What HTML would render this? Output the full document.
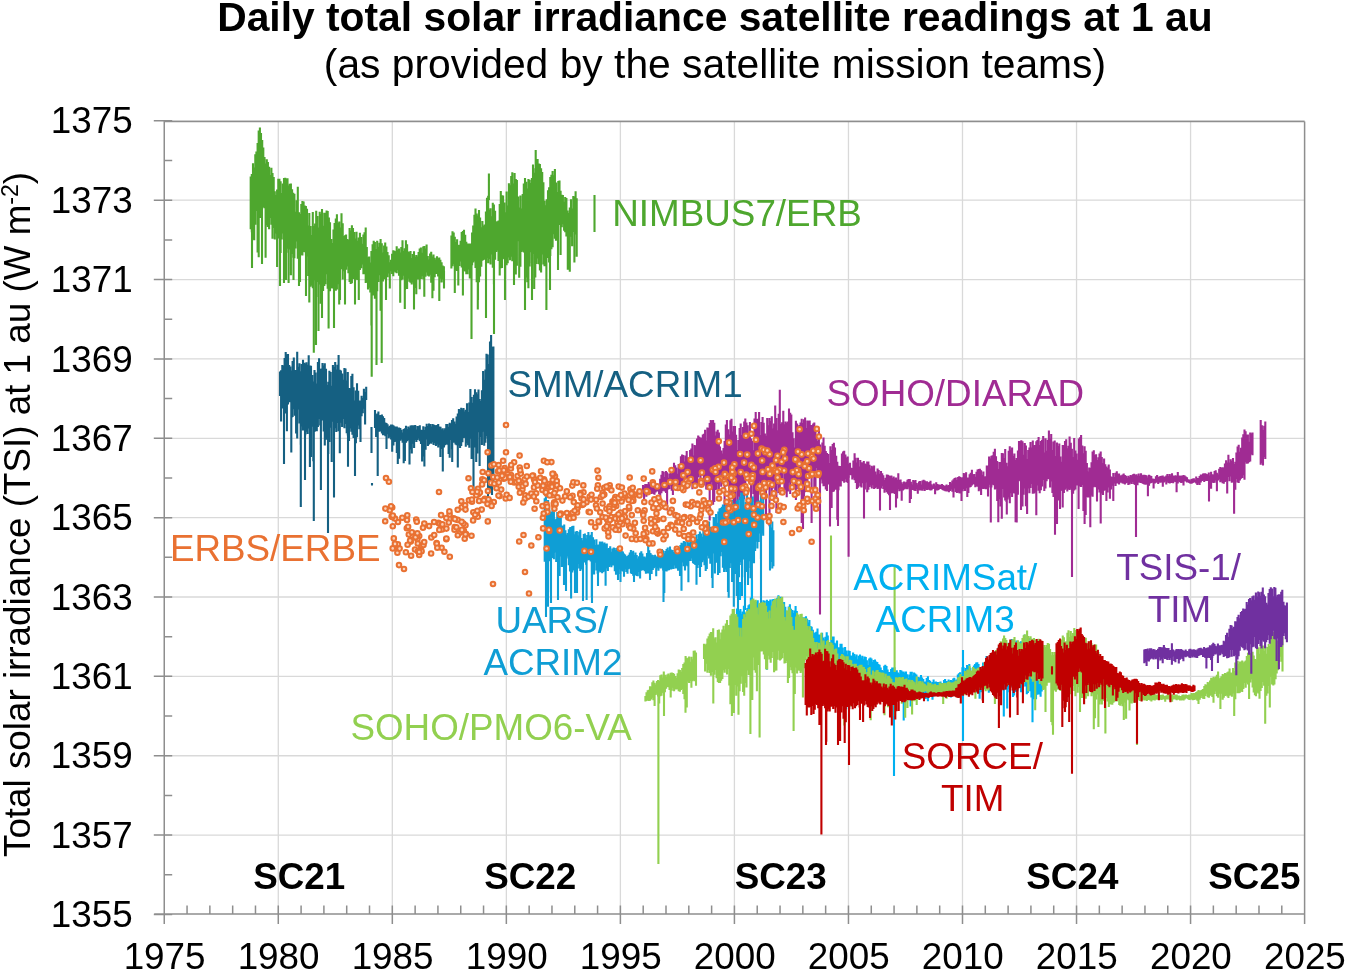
<!DOCTYPE html>
<html><head><meta charset="utf-8"><title>Daily total solar irradiance satellite readings at 1 au</title>
<style>html,body{margin:0;padding:0;background:#fff;overflow:hidden}svg{display:block}</style></head>
<body>
<svg width="1345" height="972" viewBox="0 0 1345 972">
<rect width="1345" height="972" fill="#fff"/>
<path d="M164.2 835.09H1304.6M164.2 755.73H1304.6M164.2 676.37H1304.6M164.2 597.01H1304.6M164.2 517.65H1304.6M164.2 438.29H1304.6M164.2 358.93H1304.6M164.2 279.57H1304.6M164.2 200.21H1304.6M164.2 120.85H1304.6M278.28 121.4V914.1M392.32 121.4V914.1M506.35 121.4V914.1M620.39 121.4V914.1M734.42 121.4V914.1M848.46 121.4V914.1M962.50 121.4V914.1M1076.53 121.4V914.1M1190.56 121.4V914.1" stroke="#D9D9D9" stroke-width="1.3" fill="none"/>
<path d="M250.7 176.6V229.2M251.8 173.9V232.2M253.0 163.2V239.4M254.2 167.6V240.3M255.3 154.2V224.7M256.4 151.4V211.1M257.6 143.1V252.5M258.7 130.4V257.2M259.9 127.6V217.9M261.0 133.0V204.9M262.2 140.1V208.3M263.3 147.6V206.9M264.5 156.9V208.2M265.6 163.5V257.7M266.8 159.3V225.3M267.9 162.1V227.1M269.1 166.7V229.3M270.2 175.0V218.0M271.4 167.7V224.8M272.5 172.9V238.7M273.7 177.1V228.0M274.8 191.2V239.5M276.0 195.1V233.6M277.1 189.4V267.1M278.3 178.7V238.1M279.4 178.8V238.8M280.6 181.3V252.9M281.7 193.1V239.5M282.9 183.4V233.5M284.0 177.9V248.3M285.2 177.8V244.1M286.3 178.6V252.8M287.5 178.3V248.7M288.6 185.5V283.1M289.8 183.8V249.4M290.9 183.5V275.2M292.1 189.3V254.0M293.2 192.8V257.7M294.4 193.8V258.2M295.5 211.8V248.6M296.7 200.2V241.4M297.8 186.8V258.8M299.0 212.2V286.1M300.1 214.0V256.4M301.3 203.9V255.1M302.4 200.9V255.6M303.6 201.5V251.9M304.7 205.6V252.2M305.9 206.1V255.6M307.0 208.7V256.4M308.2 225.6V276.1M309.3 212.9V302.4M310.5 226.1V286.8M311.6 234.9V285.6M312.8 211.9V288.3M313.9 225.9V280.6M315.1 223.4V277.8M316.2 210.8V297.0M317.4 216.1V282.1M318.5 227.4V307.2M319.7 211.7V284.5M320.8 213.8V303.8M322.0 209.0V280.5M323.1 225.8V291.0M324.3 212.8V286.1M325.4 212.8V284.3M326.6 210.5V274.3M327.7 211.1V288.7M328.9 217.5V283.1M330.0 222.3V291.3M331.2 239.0V288.0M332.3 243.1V288.4M333.5 229.4V278.6M334.6 223.1V279.9M335.8 218.5V290.8M336.9 214.2V289.4M338.1 223.0V284.2M339.2 221.4V304.4M340.4 227.4V263.3M341.5 213.3V269.3M342.7 223.3V279.4M343.8 235.9V271.3M345.0 235.2V284.3M346.1 234.4V269.7M347.3 239.0V266.5M348.4 240.0V273.2M349.6 228.0V282.0M350.7 230.6V283.9M351.9 225.2V283.2M353.0 228.1V279.1M354.2 231.9V275.9M355.3 238.4V280.3M356.5 231.8V279.2M357.6 240.8V279.9M358.8 237.5V300.0M359.9 232.7V270.1M361.1 237.0V268.3M362.2 243.7V264.4M363.4 234.5V274.2M364.5 232.2V274.3M365.7 227.6V282.9M366.8 247.0V282.5M368.0 257.2V289.6M369.1 256.6V287.8M370.3 262.6V292.5M371.4 251.1V325.6M372.6 244.3V292.5M373.7 240.7V295.6M374.9 241.9V298.8M376.0 248.9V298.4M377.2 240.8V291.2M378.3 246.8V282.1M379.5 242.8V275.3M380.6 238.9V310.8M381.8 243.3V277.6M382.9 252.4V281.6M384.1 245.4V279.3M385.2 242.5V278.7M386.4 246.4V274.8M387.5 251.9V277.2M388.7 255.3V273.4M389.8 262.2V275.6M391.0 259.8V271.3M392.1 253.8V273.9M393.3 250.2V276.3M394.4 250.7V271.6M395.6 251.2V272.6M396.7 246.3V273.2M397.9 249.8V270.3M399.0 248.4V275.8M400.2 252.5V302.8M401.3 246.9V280.2M402.5 240.3V279.5M403.6 251.1V275.8M404.8 248.2V309.0M405.9 240.2V273.7M407.1 244.2V288.9M408.2 251.5V278.7M409.4 252.2V281.7M410.5 251.1V282.8M411.7 258.0V284.4M412.8 254.0V282.6M414.0 251.3V309.5M415.1 256.8V276.5M416.3 254.9V294.2M417.4 256.6V279.5M418.6 252.0V279.6M419.7 248.6V289.3M420.9 247.4V279.1M422.0 252.8V276.2M423.2 246.6V279.3M424.3 245.9V296.8M425.5 248.4V276.8M426.6 244.6V272.4M427.8 256.1V275.7M428.9 259.5V276.6M430.1 253.5V274.7M431.2 251.8V282.7M432.4 256.5V298.2M433.5 254.4V290.7M434.7 257.8V277.3M435.8 259.5V274.0M437.0 256.3V274.0M438.1 258.3V276.4M439.3 257.6V300.9M440.4 259.8V278.7M441.6 262.2V282.4M442.7 265.5V279.5M443.9 266.2V282.0M451.4 235.5V268.6M452.5 231.3V266.3M453.7 232.4V264.2M454.8 236.8V293.0M456.0 242.0V270.5M457.1 239.2V270.9M458.3 245.1V285.4M459.4 244.8V265.9M460.6 240.8V261.6M461.7 232.0V267.6M462.9 230.9V295.4M464.0 229.7V271.1M465.2 234.7V271.4M466.3 241.7V274.2M467.5 243.6V274.3M468.6 243.5V269.5M469.8 243.5V278.5M470.9 243.4V273.2M472.1 232.6V265.3M473.2 225.5V262.4M474.4 214.8V261.2M475.5 208.5V267.9M476.7 213.5V282.2M477.8 215.6V309.5M479.0 209.9V282.3M480.1 217.5V276.4M481.3 227.3V266.8M482.4 221.1V260.7M483.6 225.7V260.0M484.7 224.6V259.2M485.9 211.4V258.5M487.0 197.7V257.7M488.2 195.7V263.3M489.3 209.8V259.0M490.5 208.2V264.4M491.6 216.3V254.6M492.8 202.7V267.8M493.9 204.4V284.3M495.1 210.8V259.7M496.2 221.5V251.9M497.4 221.2V250.5M498.5 220.4V260.9M499.7 203.9V275.6M500.8 190.9V268.2M502.0 195.2V268.0M503.1 195.4V258.7M504.3 202.6V259.2M505.4 212.2V257.5M506.6 191.4V265.3M507.7 205.5V263.2M508.9 183.3V257.4M510.0 185.3V260.3M511.2 176.0V256.7M512.3 172.3V261.2M513.5 183.4V248.4M514.6 173.1V255.6M515.8 179.0V274.4M516.9 179.9V265.8M518.1 196.6V241.3M519.2 207.5V277.8M520.4 195.6V266.8M521.5 208.5V252.1M522.7 193.9V250.7M523.8 183.6V252.6M525.0 178.1V259.1M526.1 181.8V277.5M527.3 188.5V282.2M528.4 178.9V288.3M529.6 179.7V266.4M530.7 182.9V252.3M531.9 178.1V263.2M533.0 164.5V253.8M534.2 172.8V289.1M535.3 168.3V277.5M536.5 160.4V263.9M537.6 158.9V258.4M538.8 163.6V264.3M539.9 163.9V270.6M541.1 168.2V272.6M542.2 171.9V254.4M543.4 182.3V264.4M544.5 200.7V266.2M545.7 205.2V260.8M546.8 199.3V256.4M548.0 190.3V258.0M549.1 187.2V262.6M550.3 177.0V256.1M551.4 174.7V249.2M552.6 170.9V247.3M553.7 175.2V234.2M554.9 169.1V238.7M556.0 182.5V240.7M557.2 191.9V229.7M558.3 181.0V223.1M559.5 180.4V225.0M560.6 190.7V254.9M561.8 194.7V227.2M562.9 195.1V224.3M564.1 201.7V230.8M565.2 197.1V232.3M566.4 198.1V236.4M567.5 210.4V234.4M568.7 213.1V242.4M569.8 207.4V271.8M571.0 199.3V236.8M572.1 208.6V246.3M573.3 196.1V232.0M574.4 196.8V262.4M575.6 191.3V234.5M576.7 198.3V256.8M252.0 205.1V268.0M262.0 185.6V264.0M280.0 211.8V286.0M284.0 214.5V283.0M286.0 215.8V280.0M293.5 223.0V280.0M300.0 230.0V282.0M306.0 239.9V296.0M313.8 252.5V352.7M316.0 253.0V345.0M318.5 254.2V331.0M322.0 254.6V318.0M328.6 254.6V328.6M334.0 255.1V328.0M340.0 248.3V300.0M345.0 248.4V304.5M355.0 256.0V304.5M371.7 271.8V376.7M376.5 266.7V365.0M381.7 258.5V363.0M386.0 262.7V300.0M389.8 266.5V288.5M405.0 259.6V290.0M415.0 266.0V288.0M444.0 271.0V288.5M471.5 253.0V339.0M478.0 244.1V300.0M486.0 240.7V318.0M494.0 235.3V334.0M505.0 226.1V300.0M514.0 218.0V285.0M525.0 226.5V310.0M532.0 214.9V300.0M546.4 221.5V310.0M550.0 216.4V290.0M558.0 207.2V270.0M567.8 224.0V269.7M488.9 200.0V173.5M535.7 170.0V150.0M594.5 195.0V232.0" stroke="#4EA72E" stroke-width="2.1" fill="none"/>
<path d="M280.0 371.6V395.9M281.1 370.3V421.4M282.3 365.0V408.5M283.4 365.7V399.6M284.6 358.0V411.8M285.7 352.1V413.5M286.9 354.3V431.3M288.0 353.9V404.5M289.2 365.1V402.3M290.3 366.4V401.7M291.5 370.5V418.0M292.6 360.9V416.9M293.8 357.6V409.3M294.9 370.1V415.8M296.1 370.0V433.4M297.2 351.7V438.4M298.4 366.7V409.5M299.5 363.2V423.4M300.7 371.3V444.7M301.8 363.9V426.6M303.0 359.7V430.4M304.1 362.7V429.2M305.3 363.6V435.3M306.4 362.3V431.8M307.6 364.7V434.0M308.7 355.3V428.5M309.9 365.5V466.9M311.0 365.8V457.1M312.2 375.1V426.8M313.3 381.6V461.2M314.5 370.0V431.9M315.6 372.4V431.1M316.8 383.4V431.2M317.9 362.0V427.1M319.1 358.3V419.1M320.2 369.1V425.5M321.4 368.5V410.6M322.5 362.9V420.4M323.7 365.6V431.6M324.8 363.3V445.6M326.0 368.8V439.8M327.1 384.9V430.1M328.3 381.8V454.1M329.4 370.7V442.1M330.6 372.1V427.7M331.7 385.8V462.1M332.9 365.0V421.8M334.0 366.9V454.7M335.2 361.9V428.2M336.3 369.5V432.1M337.5 364.8V423.1M338.6 355.1V431.3M339.8 369.8V453.3M340.9 370.5V422.8M342.1 373.4V427.0M343.2 379.8V419.0M344.4 367.9V428.3M345.5 368.4V424.1M346.7 380.6V433.2M347.8 372.1V435.6M349.0 388.1V441.1M350.1 388.2V428.4M351.3 376.0V431.7M352.4 373.7V434.7M353.6 387.2V438.1M354.7 400.5V433.8M355.9 390.5V443.2M357.0 383.3V437.3M358.2 390.7V425.6M359.3 400.6V429.2M360.5 400.4V442.0M361.6 395.7V416.2M362.8 398.1V413.2M363.9 388.8V408.8M365.1 391.9V424.6M366.2 386.7V400.0M371.5 427.1V453.1M375.0 409.9V427.9M376.1 414.2V437.0M377.3 413.6V427.6M378.4 411.5V429.8M379.6 415.2V431.7M380.7 415.0V430.9M381.9 414.6V433.4M383.0 416.2V435.2M384.2 418.1V435.1M385.3 422.6V436.3M386.5 423.1V449.0M387.6 424.3V434.3M388.8 426.7V438.3M389.9 425.8V436.7M391.1 424.5V439.5M392.2 424.5V451.7M393.4 425.2V445.4M394.5 426.2V441.9M395.7 427.1V441.4M396.8 426.6V453.1M398.0 427.4V456.1M399.1 427.6V458.8M400.3 428.1V440.8M401.4 429.8V439.6M402.6 432.6V442.7M403.7 429.0V463.2M404.9 428.2V460.9M406.0 425.7V442.7M407.2 428.9V441.2M408.3 426.5V439.9M409.5 427.7V464.4M410.6 425.4V449.5M411.8 425.3V453.6M412.9 425.3V443.7M414.1 425.5V447.9M415.2 425.1V439.9M416.4 429.4V442.1M417.5 426.1V440.1M418.7 426.2V438.6M419.8 425.3V441.2M421.0 429.8V443.9M422.1 430.1V461.4M423.3 426.3V456.5M424.4 430.0V466.4M425.6 426.8V449.7M426.7 423.8V439.5M427.9 426.0V446.1M429.0 423.5V444.6M430.2 424.0V443.2M431.3 426.6V443.7M432.5 424.0V441.9M433.6 424.5V445.0M434.8 425.0V443.0M435.9 425.8V445.9M437.1 424.9V444.5M438.2 424.0V447.6M439.4 426.4V445.1M440.5 426.8V448.6M441.7 429.3V448.9M442.8 428.2V471.5M444.0 430.2V447.4M445.1 428.3V445.2M446.3 424.0V444.2M447.4 424.1V444.8M448.6 426.7V453.9M449.7 422.8V457.8M450.9 423.7V439.9M452.0 420.1V449.2M453.2 418.3V442.7M454.3 421.6V442.7M455.5 423.8V444.4M456.6 416.4V445.3M457.8 413.5V467.4M458.9 409.0V445.6M460.1 409.8V447.9M461.2 407.8V446.0M462.4 409.2V442.3M463.5 408.0V438.1M464.7 411.4V437.8M465.8 409.8V446.8M467.0 403.3V443.3M468.1 412.0V445.3M469.3 402.4V447.7M470.4 389.1V438.7M471.6 397.1V459.0M472.7 402.7V440.3M473.9 394.8V447.6M475.0 389.3V447.5M476.2 392.2V462.1M477.3 394.2V453.6M478.5 389.4V432.3M479.6 398.9V466.0M480.8 401.0V436.9M481.9 390.2V444.9M483.1 371.0V431.7M484.2 379.8V445.8M485.4 369.5V442.7M486.5 353.8V435.9M487.7 354.5V438.5M488.8 364.0V422.1M490.0 341.5V434.8M491.1 335.1V440.2M492.3 346.7V464.5M493.4 346.4V484.7M284.0 382.5V464.0M291.3 383.2V452.5M300.8 385.6V507.0M305.0 394.3V480.0M313.8 405.0V521.0M320.9 389.8V490.0M328.0 408.5V533.0M334.0 398.0V497.5M348.0 402.5V466.7M355.0 412.2V476.0M377.7 419.3V476.0M397.8 435.9V464.0M440.4 437.0V457.0M452.2 428.9V462.0M473.5 420.5V495.0M490.0 388.5V490.0M372.0 483.0V485.6M488.0 394.9V500.0M492.0 399.6V495.0" stroke="#156082" stroke-width="2.1" fill="none"/>
<path d="M643.0 485.0V493.5M644.1 485.6V501.0M645.3 484.1V492.6M646.4 484.1V496.7M647.6 484.2V492.4M648.7 482.1V492.9M649.9 484.2V492.6M651.0 486.7V494.0M652.2 487.3V493.1M653.3 487.1V493.9M654.5 484.8V494.8M655.6 483.5V492.6M656.8 485.5V491.4M657.9 486.3V491.4M659.1 484.6V494.3M660.2 478.7V496.1M661.4 474.8V493.2M662.5 471.1V491.3M663.7 471.7V490.5M664.8 476.9V491.6M666.0 470.9V492.9M667.1 472.3V510.5M668.3 477.8V489.4M669.4 473.5V489.1M670.6 472.7V485.7M671.7 473.3V490.7M672.9 470.1V495.1M674.0 462.8V488.7M675.2 465.2V489.4M676.3 467.6V487.5M677.5 473.8V490.1M678.6 464.0V490.3M679.8 464.0V490.7M680.9 456.2V488.5M682.1 454.5V484.5M683.2 455.0V488.2M684.4 461.4V486.0M685.5 455.4V484.4M686.7 450.9V489.2M687.8 457.5V487.9M689.0 457.5V480.1M690.1 450.0V478.4M691.3 448.5V483.3M692.4 443.5V489.2M693.6 455.6V487.5M694.7 444.9V482.5M695.9 445.7V486.4M697.0 438.4V484.2M698.2 435.6V477.5M699.3 436.7V474.6M700.5 437.5V483.7M701.6 437.7V476.0M702.8 434.5V474.1M703.9 433.7V485.4M705.1 429.7V479.4M706.2 440.4V489.6M707.4 427.5V489.8M708.5 427.9V487.2M709.7 423.1V520.5M710.8 419.9V487.0M712.0 420.7V482.2M713.1 420.0V504.8M714.3 422.8V502.1M715.4 435.5V490.1M716.6 431.5V489.8M717.7 429.8V484.1M718.9 432.5V493.8M720.0 446.5V473.4M721.2 450.5V486.7M722.3 453.4V483.7M723.5 447.9V480.6M724.6 441.1V524.1M725.8 424.6V484.0M726.9 420.0V477.7M728.1 429.3V482.5M729.2 434.6V511.1M730.4 420.2V490.4M731.5 418.7V496.6M732.7 431.6V495.8M733.8 426.1V513.4M735.0 425.9V517.6M736.1 434.7V489.7M737.3 450.1V528.1M738.4 439.9V496.4M739.6 427.9V499.9M740.7 423.4V492.8M741.9 434.9V495.2M743.0 427.1V516.9M744.2 421.4V499.3M745.3 418.4V484.1M746.5 422.5V479.7M747.6 425.2V481.2M748.8 435.6V477.6M749.9 422.0V478.5M751.1 438.6V502.6M752.2 440.7V483.6M753.4 450.3V494.1M754.5 418.4V501.8M755.7 412.1V495.8M756.8 419.0V520.7M758.0 418.7V502.2M759.1 412.0V481.6M760.3 435.1V491.7M761.4 422.0V487.7M762.6 416.9V483.2M763.7 422.8V498.0M764.9 433.4V491.0M766.0 435.7V518.6M767.2 418.0V489.4M768.3 425.2V484.9M769.5 417.9V526.3M770.6 421.1V487.2M771.8 416.3V498.3M772.9 428.6V488.5M774.1 423.6V480.5M775.2 405.4V494.8M776.4 418.0V513.1M777.5 430.2V484.8M778.7 413.7V493.1M779.8 389.7V494.5M781.0 423.9V477.4M782.1 422.2V478.6M783.3 410.7V471.5M784.4 424.3V493.3M785.6 421.4V489.8M786.7 422.9V497.2M787.9 421.4V491.5M789.0 408.6V482.5M790.2 412.8V494.1M791.3 414.4V481.7M792.5 432.2V481.9M793.6 438.3V488.0M794.8 447.4V488.1M795.9 420.8V500.0M797.1 423.6V485.9M798.2 430.2V489.0M799.4 425.0V491.7M800.5 422.4V489.8M801.7 418.8V523.0M802.8 422.9V496.5M804.0 419.2V496.8M805.1 417.4V492.2M806.3 428.0V491.7M807.4 420.5V482.1M808.6 420.7V478.2M809.7 420.4V474.9M810.9 425.1V468.8M812.0 425.1V468.7M813.2 423.4V471.0M814.3 422.5V487.1M815.5 430.4V503.9M816.6 438.2V467.9M817.8 440.9V474.1M818.9 430.2V474.4M820.1 444.4V480.7M821.2 451.4V479.4M822.4 442.6V483.6M823.5 437.6V486.3M824.7 445.7V486.1M825.8 450.9V489.6M827.0 453.1V491.1M828.1 454.0V484.6M829.3 462.9V482.7M830.4 446.2V487.1M831.6 449.9V507.9M832.7 443.9V491.9M833.9 442.8V491.4M835.0 447.6V489.4M836.2 455.8V489.8M837.3 461.7V519.7M838.5 465.8V490.3M839.6 466.0V486.6M840.8 466.1V486.5M841.9 453.4V480.8M843.1 451.4V481.2M844.2 450.7V482.8M845.4 454.5V479.3M846.5 457.8V482.0M847.7 456.5V483.1M848.8 463.7V477.7M850.0 462.8V475.0M851.1 467.7V475.2M852.3 468.0V479.4M853.4 460.6V477.7M854.6 453.3V480.3M855.7 457.7V482.9M856.9 462.6V489.0M858.0 457.7V487.7M859.2 466.6V482.8M860.3 459.9V486.6M861.5 462.2V487.4M862.6 462.6V483.2M863.8 460.9V483.2M864.9 463.4V489.4M866.1 464.2V482.4M867.2 461.4V492.3M868.4 461.4V489.7M869.5 464.8V487.0M870.7 468.6V485.4M871.8 465.8V488.4M873.0 467.3V485.3M874.1 465.5V489.0M875.3 471.6V488.2M876.4 474.4V487.0M877.6 468.5V488.9M878.7 470.0V488.6M879.9 473.8V488.3M881.0 471.0V488.5M882.2 473.2V486.2M883.3 475.2V488.9M884.5 480.1V492.7M885.6 477.7V490.2M886.8 474.4V492.3M887.9 474.8V493.7M889.1 475.5V495.3M890.2 475.9V494.0M891.4 475.4V493.1M892.5 478.1V493.2M893.7 476.6V493.2M894.8 478.4V494.0M896.0 477.6V507.5M897.1 479.7V498.4M898.3 473.2V489.3M899.4 479.9V491.3M900.6 479.5V490.5M901.7 482.2V500.8M902.9 484.0V490.4M904.0 481.4V489.4M905.2 482.8V488.4M906.3 481.7V489.3M907.5 479.7V489.2M908.6 479.1V487.6M909.8 479.1V503.0M910.9 481.7V499.1M912.1 484.4V490.0M913.2 480.0V489.9M914.4 481.0V490.7M915.5 480.0V490.9M916.7 483.1V489.3M917.8 484.6V493.7M919.0 481.6V490.2M920.1 480.9V490.6M921.3 484.4V490.5M922.4 480.4V490.8M923.6 479.7V489.3M924.7 480.4V490.9M925.9 481.2V489.4M927.0 481.3V489.9M928.2 482.7V488.9M929.3 482.0V490.1M930.5 480.8V490.6M931.6 484.2V490.2M932.8 485.6V489.0M933.9 483.5V488.6M935.1 485.4V494.2M936.2 482.2V490.6M937.4 483.9V490.5M938.5 484.5V489.9M939.7 484.5V488.9M940.8 484.9V488.9M942.0 484.0V489.6M943.1 484.9V490.2M944.3 486.0V490.8M945.4 485.4V491.3M946.6 484.6V491.6M947.7 485.7V491.2M948.9 484.9V492.2M950.0 481.9V490.9M951.2 483.2V489.5M952.3 480.6V491.8M953.5 479.3V497.6M954.6 478.1V488.6M955.8 477.4V492.1M956.9 479.9V492.9M958.1 477.0V492.0M959.2 476.3V493.2M960.4 477.0V493.4M961.5 478.1V500.9M962.7 477.2V491.3M963.8 473.1V489.1M965.0 474.3V491.0M966.1 472.3V488.2M967.3 477.6V497.1M968.4 477.5V493.0M969.6 474.3V487.6M970.7 472.8V486.9M971.9 469.7V485.6M973.0 474.4V484.0M974.2 473.9V484.4M975.3 476.8V487.3M976.5 471.8V486.2M977.6 469.5V486.7M978.8 469.1V491.3M979.9 468.8V489.7M981.1 470.3V495.1M982.2 474.7V488.8M983.4 471.4V489.1M984.5 476.4V488.5M985.7 476.3V489.2M986.8 465.6V489.2M988.0 465.6V496.4M989.1 456.5V484.8M990.3 458.6V487.5M991.4 455.7V487.4M992.6 455.3V484.6M993.7 451.7V485.2M994.9 448.8V489.6M996.0 456.2V488.7M997.2 461.1V501.0M998.3 468.9V522.3M999.5 461.9V499.3M1000.6 462.0V506.6M1001.8 452.9V518.8M1002.9 453.2V488.9M1004.1 458.0V497.4M1005.2 449.0V500.4M1006.4 462.7V501.9M1007.5 466.2V499.6M1008.7 450.8V497.4M1009.8 446.3V503.3M1011.0 449.8V493.3M1012.1 447.6V497.0M1013.3 455.8V493.1M1014.4 453.6V493.5M1015.6 460.1V522.3M1016.7 458.0V522.4M1017.9 450.4V494.7M1019.0 441.1V480.6M1020.2 441.2V481.3M1021.3 440.3V482.8M1022.5 441.2V506.6M1023.6 454.8V494.7M1024.8 442.9V488.6M1025.9 445.5V506.3M1027.1 459.1V513.9M1028.2 450.0V488.4M1029.4 447.4V493.3M1030.5 441.9V488.0M1031.7 447.4V483.9M1032.8 440.4V493.7M1034.0 445.2V493.5M1035.1 445.0V492.5M1036.3 441.2V515.2M1037.4 439.9V485.4M1038.6 436.9V490.7M1039.7 445.1V493.3M1040.9 441.0V490.2M1042.0 439.8V486.6M1043.2 435.9V480.0M1044.3 452.5V491.0M1045.5 438.3V488.6M1046.6 450.8V481.2M1047.8 439.7V479.2M1048.9 430.5V478.9M1050.1 438.4V487.5M1051.2 434.1V481.6M1052.4 450.0V492.9M1053.5 441.5V497.1M1054.7 440.6V495.1M1055.8 456.1V488.4M1057.0 442.6V523.9M1058.1 446.1V500.6M1059.3 443.6V491.3M1060.4 456.4V491.1M1061.6 461.7V490.4M1062.7 444.9V507.4M1063.9 445.1V493.1M1065.0 441.1V489.7M1066.2 439.2V488.6M1067.3 448.3V491.5M1068.5 445.8V489.3M1069.6 436.6V490.0M1070.8 442.8V488.7M1071.9 448.8V492.2M1073.1 457.1V493.7M1074.2 438.0V490.4M1075.4 450.5V489.4M1076.5 453.6V485.6M1077.7 459.8V483.7M1078.8 438.5V479.9M1080.0 437.2V486.4M1081.1 435.0V486.9M1082.3 445.4V485.1M1083.4 453.2V511.0M1084.6 446.2V524.0M1085.7 450.7V515.0M1086.9 462.9V496.9M1088.0 471.5V497.4M1089.2 467.5V497.6M1090.3 467.9V527.3M1091.5 462.3V495.4M1092.6 451.5V496.8M1093.8 450.3V487.2M1094.9 454.9V486.5M1096.1 454.2V487.3M1097.2 460.1V489.6M1098.4 457.3V489.6M1099.5 453.6V492.6M1100.7 451.5V523.5M1101.8 457.1V493.4M1103.0 463.0V494.9M1104.1 458.5V490.7M1105.3 464.2V490.2M1106.4 466.6V501.0M1107.6 468.0V492.6M1108.7 464.6V487.5M1109.9 469.4V498.8M1111.0 476.5V489.5M1112.2 477.1V485.8M1113.3 473.1V501.0M1114.5 477.1V483.6M1115.6 472.8V485.9M1116.8 471.3V483.6M1117.9 473.5V483.4M1119.1 473.5V484.5M1120.2 475.6V482.7M1121.4 475.3V482.8M1122.6 474.6V483.6M1123.7 473.5V483.8M1124.9 475.0V484.6M1126.0 475.8V483.3M1127.2 477.7V482.7M1128.3 475.8V484.9M1129.5 477.1V484.4M1130.6 475.0V482.8M1131.8 475.4V483.9M1132.9 474.2V482.0M1134.1 473.7V484.3M1135.2 475.0V484.9M1136.4 474.2V484.0M1137.5 475.8V485.2M1138.7 473.5V482.6M1139.8 475.8V482.7M1141.0 473.2V483.0M1142.1 475.2V483.2M1143.3 474.7V484.1M1144.4 474.7V484.5M1145.6 475.1V484.7M1146.7 475.6V484.4M1147.9 477.6V496.2M1149.0 474.8V485.7M1150.2 475.5V483.6M1151.3 475.9V483.1M1152.5 478.6V482.3M1153.6 478.7V488.4M1154.8 478.9V483.6M1155.9 476.3V482.7M1157.1 475.0V482.5M1158.2 477.1V483.9M1159.4 476.4V482.6M1160.5 475.9V482.8M1161.7 475.7V482.2M1162.8 475.6V486.7M1164.0 476.9V482.5M1165.1 476.5V481.6M1166.3 475.6V484.4M1167.4 474.1V481.7M1168.6 476.0V482.9M1169.7 474.1V483.4M1170.9 475.5V483.0M1172.0 473.2V482.7M1173.2 475.5V483.2M1174.3 476.0V481.5M1175.5 475.3V482.1M1176.6 476.0V492.3M1177.8 471.9V483.4M1178.9 475.6V481.6M1180.1 476.0V482.2M1181.2 475.5V483.0M1182.4 475.7V482.6M1183.5 474.9V485.6M1184.7 475.4V481.2M1185.8 476.4V481.6M1187.0 477.2V482.5M1188.1 479.3V482.4M1189.3 479.6V483.0M1190.4 480.6V483.8M1191.6 478.9V483.8M1192.7 478.4V482.9M1193.9 478.2V482.5M1195.0 479.7V482.6M1196.2 476.6V483.4M1197.3 477.9V485.0M1198.5 477.9V483.5M1199.6 476.0V484.9M1200.8 474.6V482.5M1201.9 474.5V481.1M1203.1 473.6V480.5M1204.2 473.3V482.0M1205.4 473.3V480.8M1206.5 474.1V480.9M1207.7 474.6V481.0M1208.8 472.4V480.5M1210.0 475.4V482.3M1211.1 471.7V488.8M1212.3 474.2V482.2M1213.4 474.6V483.0M1214.6 471.1V482.7M1215.7 470.3V480.4M1216.9 472.8V491.2M1218.0 474.6V480.6M1219.2 468.7V479.3M1220.3 467.0V482.3M1221.5 467.9V481.6M1222.6 467.2V483.3M1223.8 467.6V483.8M1224.9 463.4V482.1M1226.1 460.2V481.3M1227.2 462.6V493.4M1228.4 454.8V477.0M1229.5 462.5V481.3M1230.7 459.2V476.5M1231.8 461.1V482.8M1233.0 457.9V482.0M1234.1 464.0V513.7M1235.3 461.7V489.7M1236.4 452.6V479.1M1237.6 446.6V482.4M1238.7 444.8V483.1M1239.9 451.7V480.6M1241.0 447.7V478.8M1242.2 437.5V478.1M1243.3 434.3V475.3M1244.5 429.4V479.7M1245.6 431.3V462.2M1246.8 434.4V463.7M1247.9 434.4V463.4M1249.1 441.8V462.3M1250.2 432.4V461.5M1251.4 433.4V454.2M1252.5 432.4V455.3M1260.7 420.1V464.8M1261.9 425.2V463.0M1263.0 430.0V465.4M1264.2 425.8V457.1M1265.3 421.4V458.9M755.0 456.5V540.0M803.0 453.9V529.0M811.6 455.1V523.0M820.0 455.5V614.6M830.0 467.2V526.6M838.0 468.1V526.0M848.6 468.2V556.7M864.0 474.4V518.6M880.0 478.4V510.6M890.0 486.4V510.0M990.8 468.0V522.6M1006.8 472.5V514.6M1021.0 468.5V510.0M1055.0 467.0V534.7M1060.0 464.8V509.0M1072.0 464.2V577.0M1078.6 463.0V509.0M1097.0 469.0V501.5M1136.0 479.1V537.0M1209.0 477.3V501.5" stroke="#A02B93" stroke-width="2.1" fill="none"/>
<path d="M544.7 498.2V561.7M545.9 496.2V559.9M547.0 504.2V561.0M548.1 500.1V592.2M549.3 508.4V561.3M550.4 512.1V547.4M551.6 511.4V547.9M552.7 509.8V558.0M553.9 511.6V559.2M555.0 519.8V552.4M556.2 518.8V562.1M557.3 512.0V561.9M558.5 516.1V560.4M559.6 515.6V576.0M560.8 517.4V556.6M561.9 525.6V567.0M563.1 526.0V564.4M564.2 524.5V566.4M565.4 530.3V562.1M566.5 534.4V558.6M567.7 533.1V556.4M568.8 529.3V565.2M570.0 527.3V571.6M571.1 527.0V598.6M572.3 526.0V572.4M573.4 525.7V570.4M574.6 534.2V570.6M575.7 531.5V563.3M576.9 530.9V569.3M578.0 535.6V564.0M579.2 531.7V568.4M580.3 529.8V570.9M581.5 537.9V569.6M582.6 540.2V565.5M583.8 533.9V561.3M584.9 533.4V562.5M586.1 538.5V564.7M587.2 535.1V560.5M588.4 532.0V560.1M589.5 535.7V560.2M590.7 534.8V561.4M591.8 531.9V597.3M593.0 537.2V564.8M594.1 539.6V574.6M595.3 545.0V562.7M596.4 539.3V570.6M597.6 544.7V573.7M598.7 544.4V572.6M599.9 541.4V571.0M601.0 541.9V572.2M602.2 541.5V573.2M603.3 543.5V572.0M604.5 542.5V571.1M605.6 543.9V585.8M606.8 543.6V568.5M607.9 548.5V570.9M609.1 547.9V567.0M610.2 546.2V565.5M611.4 551.7V567.2M612.5 548.4V565.4M613.7 547.4V565.6M614.8 548.0V571.3M616.0 550.0V574.7M617.1 547.8V569.3M618.3 548.1V574.0M619.4 547.6V569.4M620.6 547.2V573.9M621.7 550.5V570.8M622.9 551.4V571.6M624.0 553.6V576.8M625.2 554.6V569.6M626.3 556.6V572.1M627.5 556.0V573.7M628.6 554.8V569.2M629.8 552.6V568.5M630.9 550.0V573.5M632.1 552.0V574.1M633.2 550.7V575.8M634.4 554.9V574.0M635.5 552.4V575.2M636.7 555.1V576.0M637.8 558.5V576.3M639.0 556.2V572.1M640.1 552.8V578.4M641.3 551.3V570.8M642.4 553.5V570.3M643.6 556.5V570.1M644.7 556.6V571.3M645.9 557.7V573.7M647.0 553.0V573.2M648.2 545.4V573.5M649.3 550.2V570.7M650.5 553.1V572.8M651.6 554.4V574.1M652.8 554.9V570.0M653.9 556.4V568.2M655.1 554.7V567.2M656.2 556.5V576.2M657.4 556.2V568.5M658.5 554.5V570.7M659.7 555.7V567.4M660.8 553.7V568.6M662.0 549.1V567.4M663.1 550.2V570.6M664.3 553.2V593.1M665.4 551.1V570.9M666.6 549.0V571.5M667.7 547.6V570.6M668.9 550.2V570.2M670.0 546.4V569.4M671.2 549.4V569.4M672.3 549.9V568.8M673.5 552.1V569.0M674.6 550.1V565.5M675.8 546.1V568.5M676.9 549.4V568.4M678.1 550.7V570.8M679.2 549.4V564.7M680.4 545.1V565.5M681.5 542.8V590.8M682.7 543.5V562.6M683.8 541.1V566.2M685.0 541.6V570.5M686.1 546.1V565.0M687.3 540.8V566.3M688.4 542.2V582.3M689.6 542.3V561.1M690.7 540.1V561.0M691.9 540.6V558.6M693.0 536.5V563.3M694.2 537.3V564.0M695.3 541.3V565.1M696.5 534.4V584.8M697.6 538.9V568.1M698.8 534.1V565.0M699.9 531.5V563.8M701.1 533.5V567.1M702.2 536.7V562.2M703.4 528.2V560.4M704.5 530.4V565.2M705.7 524.3V571.0M706.8 522.9V569.0M708.0 523.8V555.7M709.1 521.5V558.4M710.3 526.8V563.8M711.4 530.4V561.4M712.6 528.3V588.1M713.7 517.0V553.5M714.9 518.0V573.4M716.0 513.9V562.8M717.2 522.7V555.8M718.3 511.4V559.3M719.5 508.4V573.1M720.6 508.0V556.3M721.8 506.7V551.9M722.9 504.5V567.8M724.1 505.7V572.1M725.2 509.7V569.5M726.4 503.1V572.1M727.5 503.0V571.7M728.7 500.3V597.7M729.8 507.8V568.0M731.0 504.0V563.2M732.1 500.1V581.9M733.3 502.9V567.1M734.4 516.3V565.6M735.6 507.7V574.0M736.7 500.9V596.0M737.9 499.5V572.0M739.0 509.0V577.3M740.2 496.8V562.3M741.3 492.6V565.1M742.5 493.0V558.8M743.6 496.0V559.4M744.8 506.2V577.2M745.9 502.0V567.8M747.1 493.4V572.1M748.2 506.3V568.0M749.4 501.7V561.3M750.5 498.9V578.3M751.7 499.0V560.9M752.8 496.4V556.2M754.0 507.4V563.3M755.1 513.1V550.9M756.3 510.5V541.7M757.4 500.8V548.4M758.6 506.6V542.1M759.7 500.6V533.6M760.9 489.4V559.0M762.0 502.3V533.6M763.2 496.9V535.7M770.0 521.2V570.6M771.1 527.4V561.9M772.3 521.5V568.5M773.4 530.2V566.2M546.0 529.8V617.0M548.0 530.2V606.8M551.0 530.8V603.0M558.0 537.4V600.0M564.0 542.3V585.0M566.0 543.7V591.0M571.0 546.9V583.0M575.0 548.2V593.0M577.0 549.0V593.0M583.0 550.8V601.0M586.6 551.6V600.0M592.0 553.4V603.0M598.0 556.1V586.0M618.0 560.7V580.0M620.5 561.1V582.0M634.0 563.2V582.0M650.0 562.7V580.0M663.5 559.9V602.0M680.0 555.5V576.0M700.0 547.0V577.0M712.0 541.7V578.0M718.0 539.8V575.0M728.0 538.8V592.0M733.8 539.0V606.8M738.0 539.2V612.0M742.0 539.4V596.0M745.0 538.1V610.0M748.0 535.9V585.0M751.9 533.1V616.0M761.0 518.0V620.0M769.0 585.0V585.0" stroke="#0F9ED5" stroke-width="2.1" fill="none"/>
<g fill="#F9D3BC" stroke="#E97132" stroke-width="2"><circle cx="582.2" cy="505.0" r="2.3"/><circle cx="606.4" cy="508.7" r="2.3"/><circle cx="659.6" cy="501.1" r="2.3"/><circle cx="687.3" cy="549.0" r="2.3"/><circle cx="670.1" cy="482.1" r="2.3"/><circle cx="615.4" cy="497.1" r="2.3"/><circle cx="398.1" cy="547.8" r="2.3"/><circle cx="611.3" cy="517.1" r="2.3"/><circle cx="584.4" cy="550.9" r="2.3"/><circle cx="751.3" cy="464.9" r="2.3"/><circle cx="511.0" cy="475.0" r="2.3"/><circle cx="754.1" cy="524.9" r="2.3"/><circle cx="385.2" cy="521.3" r="2.3"/><circle cx="812.4" cy="490.4" r="2.3"/><circle cx="724.4" cy="481.2" r="2.3"/><circle cx="805.3" cy="464.1" r="2.3"/><circle cx="429.1" cy="526.1" r="2.3"/><circle cx="628.9" cy="525.8" r="2.3"/><circle cx="442.1" cy="529.5" r="2.3"/><circle cx="477.8" cy="516.8" r="2.3"/><circle cx="517.6" cy="476.0" r="2.3"/><circle cx="757.5" cy="517.5" r="2.3"/><circle cx="478.0" cy="490.0" r="2.3"/><circle cx="514.2" cy="482.4" r="2.3"/><circle cx="491.0" cy="482.9" r="2.3"/><circle cx="803.2" cy="505.9" r="2.3"/><circle cx="464.7" cy="538.8" r="2.3"/><circle cx="493.8" cy="502.0" r="2.3"/><circle cx="769.6" cy="454.3" r="2.3"/><circle cx="488.9" cy="500.7" r="2.3"/><circle cx="645.1" cy="527.9" r="2.3"/><circle cx="415.0" cy="549.5" r="2.3"/><circle cx="652.8" cy="482.2" r="2.3"/><circle cx="392.2" cy="507.5" r="2.3"/><circle cx="461.8" cy="507.3" r="2.3"/><circle cx="542.9" cy="517.7" r="2.3"/><circle cx="686.4" cy="480.7" r="2.3"/><circle cx="690.6" cy="517.2" r="2.3"/><circle cx="595.3" cy="527.1" r="2.3"/><circle cx="417.8" cy="551.3" r="2.3"/><circle cx="706.4" cy="528.0" r="2.3"/><circle cx="538.4" cy="537.3" r="2.3"/><circle cx="566.9" cy="513.1" r="2.3"/><circle cx="657.5" cy="519.8" r="2.3"/><circle cx="818.1" cy="475.0" r="2.3"/><circle cx="705.5" cy="523.4" r="2.3"/><circle cx="398.0" cy="522.0" r="2.3"/><circle cx="689.5" cy="535.1" r="2.3"/><circle cx="496.5" cy="488.3" r="2.3"/><circle cx="473.3" cy="512.3" r="2.3"/><circle cx="577.7" cy="507.6" r="2.3"/><circle cx="471.5" cy="535.7" r="2.3"/><circle cx="768.8" cy="469.3" r="2.3"/><circle cx="444.4" cy="551.7" r="2.3"/><circle cx="695.1" cy="485.8" r="2.3"/><circle cx="581.5" cy="498.6" r="2.3"/><circle cx="657.8" cy="533.6" r="2.3"/><circle cx="813.2" cy="450.8" r="2.3"/><circle cx="765.6" cy="487.4" r="2.3"/><circle cx="519.7" cy="467.5" r="2.3"/><circle cx="583.3" cy="485.4" r="2.3"/><circle cx="446.4" cy="528.6" r="2.3"/><circle cx="659.7" cy="551.8" r="2.3"/><circle cx="683.4" cy="490.1" r="2.3"/><circle cx="389.7" cy="510.3" r="2.3"/><circle cx="503.7" cy="478.8" r="2.3"/><circle cx="652.9" cy="531.3" r="2.3"/><circle cx="780.1" cy="505.9" r="2.3"/><circle cx="441.6" cy="547.8" r="2.3"/><circle cx="549.3" cy="530.9" r="2.3"/><circle cx="796.7" cy="460.2" r="2.3"/><circle cx="699.8" cy="518.1" r="2.3"/><circle cx="812.5" cy="501.1" r="2.3"/><circle cx="524.7" cy="479.3" r="2.3"/><circle cx="421.1" cy="546.5" r="2.3"/><circle cx="597.5" cy="470.6" r="2.3"/><circle cx="733.7" cy="507.9" r="2.3"/><circle cx="446.3" cy="539.2" r="2.3"/><circle cx="751.2" cy="482.1" r="2.3"/><circle cx="798.8" cy="482.5" r="2.3"/><circle cx="511.5" cy="479.8" r="2.3"/><circle cx="752.8" cy="475.4" r="2.3"/><circle cx="753.5" cy="508.2" r="2.3"/><circle cx="807.2" cy="461.3" r="2.3"/><circle cx="618.7" cy="486.6" r="2.3"/><circle cx="807.7" cy="501.6" r="2.3"/><circle cx="630.4" cy="489.3" r="2.3"/><circle cx="619.9" cy="548.6" r="2.3"/><circle cx="502.4" cy="474.9" r="2.3"/><circle cx="740.7" cy="472.1" r="2.3"/><circle cx="468.5" cy="478.3" r="2.3"/><circle cx="724.8" cy="473.9" r="2.3"/><circle cx="684.5" cy="517.1" r="2.3"/><circle cx="438.5" cy="522.9" r="2.3"/><circle cx="616.2" cy="505.9" r="2.3"/><circle cx="615.8" cy="516.8" r="2.3"/><circle cx="663.4" cy="518.9" r="2.3"/><circle cx="758.5" cy="504.9" r="2.3"/><circle cx="778.6" cy="510.7" r="2.3"/><circle cx="772.0" cy="497.7" r="2.3"/><circle cx="498.1" cy="471.4" r="2.3"/><circle cx="729.4" cy="502.7" r="2.3"/><circle cx="392.7" cy="548.4" r="2.3"/><circle cx="807.2" cy="498.7" r="2.3"/><circle cx="604.2" cy="487.8" r="2.3"/><circle cx="431.3" cy="537.5" r="2.3"/><circle cx="633.0" cy="497.2" r="2.3"/><circle cx="751.3" cy="433.7" r="2.3"/><circle cx="586.5" cy="502.2" r="2.3"/><circle cx="609.7" cy="485.4" r="2.3"/><circle cx="690.6" cy="505.8" r="2.3"/><circle cx="707.3" cy="479.0" r="2.3"/><circle cx="608.5" cy="536.5" r="2.3"/><circle cx="692.2" cy="502.0" r="2.3"/><circle cx="646.4" cy="539.1" r="2.3"/><circle cx="709.6" cy="487.3" r="2.3"/><circle cx="775.9" cy="500.1" r="2.3"/><circle cx="718.6" cy="466.7" r="2.3"/><circle cx="534.0" cy="478.7" r="2.3"/><circle cx="663.5" cy="539.3" r="2.3"/><circle cx="675.4" cy="515.1" r="2.3"/><circle cx="617.4" cy="523.0" r="2.3"/><circle cx="690.7" cy="459.7" r="2.3"/><circle cx="653.3" cy="507.9" r="2.3"/><circle cx="407.0" cy="520.0" r="2.3"/><circle cx="624.8" cy="516.8" r="2.3"/><circle cx="818.9" cy="436.5" r="2.3"/><circle cx="645.5" cy="540.3" r="2.3"/><circle cx="454.7" cy="527.0" r="2.3"/><circle cx="651.5" cy="502.6" r="2.3"/><circle cx="614.7" cy="499.2" r="2.3"/><circle cx="670.6" cy="524.7" r="2.3"/><circle cx="514.1" cy="462.2" r="2.3"/><circle cx="555.0" cy="476.2" r="2.3"/><circle cx="816.1" cy="508.8" r="2.3"/><circle cx="572.3" cy="485.6" r="2.3"/><circle cx="613.2" cy="508.0" r="2.3"/><circle cx="811.8" cy="456.2" r="2.3"/><circle cx="657.2" cy="486.4" r="2.3"/><circle cx="615.3" cy="518.5" r="2.3"/><circle cx="583.6" cy="499.4" r="2.3"/><circle cx="724.2" cy="541.9" r="2.3"/><circle cx="705.1" cy="527.0" r="2.3"/><circle cx="727.0" cy="475.7" r="2.3"/><circle cx="683.7" cy="518.0" r="2.3"/><circle cx="713.5" cy="529.3" r="2.3"/><circle cx="784.3" cy="449.8" r="2.3"/><circle cx="503.1" cy="460.7" r="2.3"/><circle cx="621.2" cy="520.6" r="2.3"/><circle cx="625.1" cy="511.1" r="2.3"/><circle cx="476.8" cy="513.0" r="2.3"/><circle cx="417.4" cy="539.2" r="2.3"/><circle cx="720.2" cy="478.3" r="2.3"/><circle cx="738.1" cy="520.0" r="2.3"/><circle cx="526.9" cy="497.2" r="2.3"/><circle cx="571.5" cy="513.9" r="2.3"/><circle cx="419.2" cy="536.0" r="2.3"/><circle cx="683.8" cy="483.7" r="2.3"/><circle cx="478.0" cy="488.9" r="2.3"/><circle cx="701.1" cy="480.9" r="2.3"/><circle cx="541.0" cy="471.2" r="2.3"/><circle cx="694.2" cy="545.6" r="2.3"/><circle cx="783.2" cy="452.4" r="2.3"/><circle cx="523.5" cy="535.0" r="2.3"/><circle cx="493.3" cy="477.0" r="2.3"/><circle cx="557.5" cy="497.2" r="2.3"/><circle cx="732.5" cy="495.3" r="2.3"/><circle cx="769.1" cy="483.2" r="2.3"/><circle cx="622.3" cy="524.2" r="2.3"/><circle cx="735.7" cy="507.0" r="2.3"/><circle cx="421.6" cy="551.3" r="2.3"/><circle cx="421.9" cy="545.8" r="2.3"/><circle cx="668.0" cy="528.0" r="2.3"/><circle cx="612.4" cy="501.5" r="2.3"/><circle cx="807.2" cy="483.9" r="2.3"/><circle cx="699.3" cy="492.4" r="2.3"/><circle cx="745.2" cy="521.0" r="2.3"/><circle cx="748.5" cy="500.5" r="2.3"/><circle cx="613.4" cy="502.9" r="2.3"/><circle cx="568.3" cy="517.4" r="2.3"/><circle cx="548.7" cy="487.4" r="2.3"/><circle cx="410.8" cy="541.6" r="2.3"/><circle cx="723.3" cy="490.2" r="2.3"/><circle cx="639.7" cy="492.4" r="2.3"/><circle cx="465.5" cy="525.3" r="2.3"/><circle cx="644.3" cy="502.0" r="2.3"/><circle cx="520.9" cy="490.8" r="2.3"/><circle cx="498.6" cy="465.0" r="2.3"/><circle cx="623.6" cy="497.1" r="2.3"/><circle cx="734.4" cy="488.8" r="2.3"/><circle cx="671.7" cy="509.7" r="2.3"/><circle cx="547.0" cy="493.7" r="2.3"/><circle cx="453.6" cy="518.3" r="2.3"/><circle cx="764.0" cy="517.1" r="2.3"/><circle cx="501.2" cy="489.6" r="2.3"/><circle cx="753.9" cy="467.5" r="2.3"/><circle cx="697.4" cy="503.5" r="2.3"/><circle cx="801.6" cy="454.4" r="2.3"/><circle cx="729.1" cy="442.6" r="2.3"/><circle cx="745.3" cy="486.3" r="2.3"/><circle cx="520.8" cy="473.6" r="2.3"/><circle cx="588.7" cy="511.8" r="2.3"/><circle cx="431.1" cy="553.5" r="2.3"/><circle cx="746.8" cy="475.7" r="2.3"/><circle cx="694.6" cy="504.2" r="2.3"/><circle cx="733.6" cy="473.6" r="2.3"/><circle cx="548.9" cy="484.1" r="2.3"/><circle cx="556.0" cy="482.5" r="2.3"/><circle cx="703.9" cy="505.8" r="2.3"/><circle cx="700.6" cy="460.2" r="2.3"/><circle cx="446.4" cy="538.5" r="2.3"/><circle cx="463.4" cy="523.6" r="2.3"/><circle cx="424.3" cy="523.5" r="2.3"/><circle cx="562.4" cy="500.6" r="2.3"/><circle cx="608.0" cy="523.7" r="2.3"/><circle cx="553.3" cy="473.9" r="2.3"/><circle cx="559.7" cy="530.5" r="2.3"/><circle cx="672.9" cy="500.9" r="2.3"/><circle cx="534.2" cy="479.6" r="2.3"/><circle cx="607.1" cy="519.4" r="2.3"/><circle cx="778.7" cy="481.2" r="2.3"/><circle cx="815.2" cy="504.2" r="2.3"/><circle cx="658.4" cy="497.8" r="2.3"/><circle cx="636.3" cy="539.4" r="2.3"/><circle cx="542.5" cy="506.1" r="2.3"/><circle cx="621.9" cy="499.2" r="2.3"/><circle cx="781.5" cy="490.4" r="2.3"/><circle cx="510.8" cy="481.7" r="2.3"/><circle cx="747.2" cy="454.6" r="2.3"/><circle cx="399.0" cy="565.1" r="2.3"/><circle cx="672.1" cy="525.8" r="2.3"/><circle cx="551.4" cy="462.1" r="2.3"/><circle cx="472.0" cy="501.7" r="2.3"/><circle cx="633.3" cy="500.7" r="2.3"/><circle cx="632.7" cy="487.8" r="2.3"/><circle cx="677.6" cy="516.0" r="2.3"/><circle cx="589.9" cy="512.2" r="2.3"/><circle cx="715.5" cy="529.4" r="2.3"/><circle cx="750.5" cy="479.3" r="2.3"/><circle cx="631.8" cy="515.1" r="2.3"/><circle cx="573.4" cy="482.3" r="2.3"/><circle cx="701.4" cy="509.8" r="2.3"/><circle cx="712.8" cy="469.8" r="2.3"/><circle cx="439.3" cy="529.9" r="2.3"/><circle cx="614.4" cy="504.7" r="2.3"/><circle cx="487.8" cy="521.4" r="2.3"/><circle cx="675.2" cy="529.6" r="2.3"/><circle cx="481.7" cy="509.6" r="2.3"/><circle cx="439.0" cy="492.0" r="2.3"/><circle cx="491.4" cy="465.5" r="2.3"/><circle cx="775.3" cy="471.4" r="2.3"/><circle cx="640.3" cy="539.0" r="2.3"/><circle cx="519.2" cy="541.5" r="2.3"/><circle cx="591.1" cy="522.2" r="2.3"/><circle cx="776.0" cy="460.2" r="2.3"/><circle cx="591.0" cy="551.7" r="2.3"/><circle cx="473.1" cy="520.4" r="2.3"/><circle cx="406.8" cy="528.3" r="2.3"/><circle cx="777.5" cy="455.7" r="2.3"/><circle cx="688.4" cy="483.1" r="2.3"/><circle cx="482.3" cy="479.2" r="2.3"/><circle cx="463.9" cy="530.7" r="2.3"/><circle cx="547.4" cy="512.1" r="2.3"/><circle cx="484.8" cy="498.7" r="2.3"/><circle cx="505.7" cy="498.4" r="2.3"/><circle cx="577.0" cy="482.8" r="2.3"/><circle cx="646.5" cy="532.7" r="2.3"/><circle cx="423.0" cy="527.7" r="2.3"/><circle cx="506.7" cy="494.7" r="2.3"/><circle cx="815.7" cy="498.6" r="2.3"/><circle cx="552.7" cy="480.0" r="2.3"/><circle cx="627.4" cy="521.4" r="2.3"/><circle cx="726.4" cy="515.0" r="2.3"/><circle cx="683.3" cy="475.3" r="2.3"/><circle cx="724.9" cy="474.3" r="2.3"/><circle cx="577.0" cy="512.4" r="2.3"/><circle cx="487.9" cy="491.0" r="2.3"/><circle cx="602.5" cy="517.0" r="2.3"/><circle cx="634.7" cy="494.5" r="2.3"/><circle cx="392.8" cy="526.2" r="2.3"/><circle cx="499.6" cy="496.1" r="2.3"/><circle cx="633.0" cy="499.2" r="2.3"/><circle cx="448.8" cy="522.6" r="2.3"/><circle cx="655.8" cy="518.8" r="2.3"/><circle cx="459.8" cy="532.7" r="2.3"/><circle cx="747.3" cy="478.0" r="2.3"/><circle cx="543.9" cy="460.8" r="2.3"/><circle cx="598.4" cy="477.7" r="2.3"/><circle cx="583.5" cy="492.2" r="2.3"/><circle cx="773.1" cy="467.6" r="2.3"/><circle cx="570.1" cy="518.2" r="2.3"/><circle cx="717.8" cy="479.3" r="2.3"/><circle cx="625.6" cy="535.6" r="2.3"/><circle cx="543.7" cy="513.5" r="2.3"/><circle cx="402.3" cy="517.7" r="2.3"/><circle cx="534.6" cy="508.7" r="2.3"/><circle cx="771.5" cy="505.9" r="2.3"/><circle cx="551.2" cy="485.7" r="2.3"/><circle cx="465.1" cy="505.2" r="2.3"/><circle cx="478.5" cy="494.1" r="2.3"/><circle cx="818.1" cy="449.3" r="2.3"/><circle cx="552.0" cy="486.7" r="2.3"/><circle cx="504.7" cy="468.0" r="2.3"/><circle cx="556.3" cy="485.3" r="2.3"/><circle cx="542.4" cy="489.9" r="2.3"/><circle cx="718.8" cy="441.2" r="2.3"/><circle cx="525.4" cy="495.3" r="2.3"/><circle cx="526.8" cy="466.0" r="2.3"/><circle cx="556.8" cy="481.0" r="2.3"/><circle cx="644.6" cy="510.4" r="2.3"/><circle cx="622.2" cy="499.0" r="2.3"/><circle cx="701.3" cy="484.7" r="2.3"/><circle cx="507.2" cy="473.7" r="2.3"/><circle cx="762.6" cy="471.9" r="2.3"/><circle cx="479.1" cy="500.9" r="2.3"/><circle cx="631.7" cy="492.4" r="2.3"/><circle cx="677.3" cy="522.2" r="2.3"/><circle cx="675.6" cy="482.0" r="2.3"/><circle cx="660.8" cy="506.3" r="2.3"/><circle cx="411.2" cy="535.8" r="2.3"/><circle cx="507.0" cy="477.4" r="2.3"/><circle cx="457.7" cy="509.8" r="2.3"/><circle cx="534.0" cy="487.4" r="2.3"/><circle cx="690.8" cy="479.0" r="2.3"/><circle cx="555.6" cy="490.1" r="2.3"/><circle cx="408.8" cy="534.5" r="2.3"/><circle cx="526.9" cy="476.6" r="2.3"/><circle cx="773.8" cy="493.4" r="2.3"/><circle cx="466.1" cy="534.0" r="2.3"/><circle cx="543.1" cy="528.4" r="2.3"/><circle cx="658.5" cy="508.0" r="2.3"/><circle cx="505.4" cy="470.8" r="2.3"/><circle cx="781.6" cy="481.3" r="2.3"/><circle cx="519.6" cy="455.6" r="2.3"/><circle cx="468.9" cy="500.3" r="2.3"/><circle cx="385.4" cy="508.6" r="2.3"/><circle cx="600.2" cy="512.3" r="2.3"/><circle cx="629.5" cy="495.6" r="2.3"/><circle cx="536.1" cy="493.2" r="2.3"/><circle cx="688.2" cy="535.7" r="2.3"/><circle cx="454.5" cy="529.8" r="2.3"/><circle cx="546.1" cy="490.4" r="2.3"/><circle cx="488.3" cy="473.2" r="2.3"/><circle cx="609.0" cy="488.0" r="2.3"/><circle cx="434.2" cy="535.1" r="2.3"/><circle cx="764.2" cy="483.1" r="2.3"/><circle cx="732.3" cy="471.7" r="2.3"/><circle cx="697.1" cy="522.0" r="2.3"/><circle cx="752.4" cy="478.2" r="2.3"/><circle cx="693.2" cy="532.5" r="2.3"/><circle cx="439.6" cy="523.7" r="2.3"/><circle cx="465.5" cy="534.3" r="2.3"/><circle cx="808.1" cy="476.0" r="2.3"/><circle cx="660.3" cy="554.5" r="2.3"/><circle cx="436.6" cy="543.1" r="2.3"/><circle cx="818.2" cy="451.3" r="2.3"/><circle cx="621.6" cy="501.5" r="2.3"/><circle cx="734.0" cy="480.4" r="2.3"/><circle cx="654.3" cy="499.3" r="2.3"/><circle cx="687.6" cy="472.1" r="2.3"/><circle cx="461.3" cy="501.3" r="2.3"/><circle cx="597.9" cy="485.2" r="2.3"/><circle cx="631.7" cy="501.0" r="2.3"/><circle cx="484.2" cy="480.3" r="2.3"/><circle cx="407.3" cy="515.2" r="2.3"/><circle cx="419.2" cy="554.9" r="2.3"/><circle cx="596.1" cy="499.7" r="2.3"/><circle cx="410.1" cy="540.6" r="2.3"/><circle cx="762.0" cy="506.2" r="2.3"/><circle cx="701.1" cy="482.6" r="2.3"/><circle cx="436.8" cy="543.8" r="2.3"/><circle cx="520.2" cy="470.2" r="2.3"/><circle cx="803.2" cy="502.1" r="2.3"/><circle cx="730.4" cy="510.3" r="2.3"/><circle cx="745.9" cy="435.7" r="2.3"/><circle cx="799.4" cy="463.7" r="2.3"/><circle cx="781.6" cy="461.7" r="2.3"/><circle cx="554.3" cy="505.2" r="2.3"/><circle cx="544.0" cy="479.3" r="2.3"/><circle cx="779.6" cy="469.5" r="2.3"/><circle cx="708.4" cy="503.2" r="2.3"/><circle cx="681.6" cy="488.1" r="2.3"/><circle cx="537.7" cy="485.4" r="2.3"/><circle cx="560.9" cy="513.5" r="2.3"/><circle cx="524.9" cy="498.8" r="2.3"/><circle cx="572.5" cy="495.9" r="2.3"/><circle cx="692.8" cy="518.7" r="2.3"/><circle cx="798.2" cy="470.9" r="2.3"/><circle cx="816.4" cy="474.1" r="2.3"/><circle cx="665.7" cy="535.6" r="2.3"/><circle cx="758.4" cy="487.9" r="2.3"/><circle cx="685.8" cy="504.6" r="2.3"/><circle cx="552.7" cy="495.2" r="2.3"/><circle cx="609.6" cy="506.3" r="2.3"/><circle cx="643.7" cy="478.6" r="2.3"/><circle cx="706.8" cy="532.6" r="2.3"/><circle cx="560.3" cy="514.7" r="2.3"/><circle cx="599.1" cy="522.2" r="2.3"/><circle cx="793.8" cy="481.1" r="2.3"/><circle cx="818.2" cy="501.3" r="2.3"/><circle cx="494.3" cy="483.8" r="2.3"/><circle cx="762.4" cy="492.8" r="2.3"/><circle cx="417.1" cy="536.1" r="2.3"/><circle cx="490.4" cy="503.7" r="2.3"/><circle cx="624.5" cy="493.5" r="2.3"/><circle cx="544.5" cy="482.2" r="2.3"/><circle cx="762.1" cy="460.5" r="2.3"/><circle cx="554.4" cy="508.7" r="2.3"/><circle cx="475.1" cy="514.8" r="2.3"/><circle cx="470.9" cy="488.2" r="2.3"/><circle cx="533.1" cy="475.5" r="2.3"/><circle cx="647.9" cy="492.3" r="2.3"/><circle cx="687.5" cy="485.6" r="2.3"/><circle cx="795.3" cy="459.4" r="2.3"/><circle cx="818.7" cy="473.2" r="2.3"/><circle cx="520.3" cy="484.6" r="2.3"/><circle cx="570.2" cy="497.2" r="2.3"/><circle cx="605.8" cy="517.5" r="2.3"/><circle cx="487.5" cy="503.9" r="2.3"/><circle cx="509.9" cy="477.0" r="2.3"/><circle cx="792.1" cy="487.2" r="2.3"/><circle cx="580.5" cy="493.1" r="2.3"/><circle cx="577.2" cy="508.6" r="2.3"/><circle cx="678.0" cy="488.0" r="2.3"/><circle cx="775.4" cy="470.4" r="2.3"/><circle cx="742.7" cy="487.9" r="2.3"/><circle cx="423.5" cy="545.0" r="2.3"/><circle cx="676.8" cy="548.9" r="2.3"/><circle cx="589.6" cy="496.8" r="2.3"/><circle cx="677.5" cy="551.3" r="2.3"/><circle cx="817.8" cy="495.0" r="2.3"/><circle cx="690.7" cy="506.3" r="2.3"/><circle cx="560.0" cy="514.6" r="2.3"/><circle cx="476.3" cy="495.3" r="2.3"/><circle cx="708.4" cy="509.8" r="2.3"/><circle cx="656.6" cy="532.0" r="2.3"/><circle cx="703.7" cy="500.4" r="2.3"/><circle cx="796.8" cy="470.3" r="2.3"/><circle cx="618.6" cy="525.6" r="2.3"/><circle cx="516.5" cy="482.0" r="2.3"/><circle cx="441.6" cy="525.1" r="2.3"/><circle cx="724.0" cy="462.6" r="2.3"/><circle cx="479.9" cy="492.5" r="2.3"/><circle cx="755.9" cy="439.8" r="2.3"/><circle cx="808.1" cy="489.0" r="2.3"/><circle cx="761.6" cy="448.6" r="2.3"/><circle cx="705.2" cy="503.7" r="2.3"/><circle cx="397.4" cy="552.7" r="2.3"/><circle cx="665.4" cy="507.1" r="2.3"/><circle cx="419.2" cy="552.0" r="2.3"/><circle cx="528.4" cy="496.6" r="2.3"/><circle cx="797.7" cy="508.4" r="2.3"/><circle cx="557.0" cy="485.2" r="2.3"/><circle cx="545.4" cy="483.1" r="2.3"/><circle cx="572.7" cy="512.8" r="2.3"/><circle cx="411.9" cy="532.2" r="2.3"/><circle cx="482.1" cy="484.4" r="2.3"/><circle cx="596.0" cy="505.3" r="2.3"/><circle cx="388.9" cy="481.8" r="2.3"/><circle cx="643.7" cy="520.8" r="2.3"/><circle cx="545.8" cy="492.4" r="2.3"/><circle cx="522.4" cy="489.5" r="2.3"/><circle cx="408.1" cy="526.8" r="2.3"/><circle cx="731.9" cy="476.9" r="2.3"/><circle cx="509.6" cy="497.9" r="2.3"/><circle cx="747.6" cy="506.6" r="2.3"/><circle cx="728.7" cy="508.4" r="2.3"/><circle cx="405.9" cy="552.2" r="2.3"/><circle cx="663.5" cy="532.1" r="2.3"/><circle cx="637.8" cy="510.3" r="2.3"/><circle cx="681.3" cy="466.2" r="2.3"/><circle cx="725.7" cy="483.6" r="2.3"/><circle cx="580.2" cy="494.5" r="2.3"/><circle cx="705.3" cy="523.2" r="2.3"/><circle cx="675.5" cy="487.6" r="2.3"/><circle cx="629.2" cy="508.4" r="2.3"/><circle cx="618.8" cy="530.0" r="2.3"/><circle cx="591.0" cy="499.6" r="2.3"/><circle cx="679.0" cy="522.1" r="2.3"/><circle cx="554.2" cy="502.4" r="2.3"/><circle cx="457.6" cy="519.9" r="2.3"/><circle cx="456.4" cy="527.3" r="2.3"/><circle cx="554.4" cy="493.1" r="2.3"/><circle cx="639.5" cy="495.5" r="2.3"/><circle cx="689.1" cy="523.4" r="2.3"/><circle cx="635.7" cy="533.2" r="2.3"/><circle cx="549.6" cy="495.4" r="2.3"/><circle cx="629.0" cy="506.8" r="2.3"/><circle cx="597.2" cy="488.8" r="2.3"/><circle cx="518.7" cy="486.7" r="2.3"/><circle cx="632.7" cy="494.2" r="2.3"/><circle cx="799.6" cy="429.2" r="2.3"/><circle cx="726.9" cy="493.7" r="2.3"/><circle cx="650.9" cy="519.0" r="2.3"/><circle cx="777.1" cy="471.8" r="2.3"/><circle cx="799.6" cy="505.3" r="2.3"/><circle cx="701.9" cy="472.6" r="2.3"/><circle cx="619.2" cy="498.2" r="2.3"/><circle cx="442.4" cy="524.4" r="2.3"/><circle cx="506.0" cy="452.3" r="2.3"/><circle cx="759.8" cy="486.1" r="2.3"/><circle cx="705.0" cy="528.8" r="2.3"/><circle cx="723.0" cy="522.5" r="2.3"/><circle cx="543.1" cy="485.7" r="2.3"/><circle cx="546.5" cy="504.3" r="2.3"/><circle cx="631.8" cy="538.9" r="2.3"/><circle cx="671.5" cy="470.1" r="2.3"/><circle cx="631.5" cy="493.5" r="2.3"/><circle cx="765.2" cy="452.2" r="2.3"/><circle cx="397.9" cy="544.3" r="2.3"/><circle cx="757.9" cy="453.6" r="2.3"/><circle cx="614.8" cy="502.7" r="2.3"/><circle cx="602.6" cy="503.5" r="2.3"/><circle cx="596.9" cy="508.5" r="2.3"/><circle cx="809.0" cy="468.2" r="2.3"/><circle cx="531.3" cy="545.5" r="2.3"/><circle cx="799.2" cy="529.3" r="2.3"/><circle cx="393.8" cy="538.4" r="2.3"/><circle cx="652.2" cy="471.4" r="2.3"/><circle cx="611.4" cy="490.3" r="2.3"/><circle cx="763.9" cy="449.8" r="2.3"/><circle cx="746.8" cy="489.9" r="2.3"/><circle cx="715.2" cy="468.4" r="2.3"/><circle cx="731.3" cy="477.8" r="2.3"/><circle cx="531.3" cy="493.5" r="2.3"/><circle cx="499.3" cy="470.6" r="2.3"/><circle cx="679.3" cy="533.8" r="2.3"/><circle cx="461.6" cy="521.7" r="2.3"/><circle cx="726.7" cy="501.9" r="2.3"/><circle cx="498.5" cy="495.6" r="2.3"/><circle cx="465.5" cy="509.6" r="2.3"/><circle cx="701.7" cy="505.9" r="2.3"/><circle cx="491.6" cy="505.9" r="2.3"/><circle cx="546.6" cy="548.5" r="2.3"/><circle cx="553.8" cy="503.8" r="2.3"/><circle cx="532.4" cy="475.7" r="2.3"/><circle cx="643.7" cy="533.9" r="2.3"/><circle cx="391.0" cy="506.2" r="2.3"/><circle cx="783.7" cy="507.1" r="2.3"/><circle cx="803.8" cy="510.3" r="2.3"/><circle cx="797.3" cy="492.9" r="2.3"/><circle cx="769.8" cy="473.9" r="2.3"/><circle cx="547.3" cy="506.9" r="2.3"/><circle cx="416.2" cy="519.5" r="2.3"/><circle cx="518.8" cy="480.8" r="2.3"/><circle cx="620.6" cy="512.6" r="2.3"/><circle cx="797.9" cy="451.6" r="2.3"/><circle cx="519.9" cy="492.8" r="2.3"/><circle cx="454.9" cy="519.1" r="2.3"/><circle cx="730.7" cy="496.5" r="2.3"/><circle cx="753.9" cy="514.7" r="2.3"/><circle cx="811.4" cy="475.1" r="2.3"/><circle cx="407.6" cy="544.8" r="2.3"/><circle cx="477.3" cy="510.7" r="2.3"/><circle cx="602.6" cy="492.8" r="2.3"/><circle cx="391.6" cy="516.4" r="2.3"/><circle cx="654.8" cy="521.0" r="2.3"/><circle cx="523.3" cy="502.5" r="2.3"/><circle cx="566.8" cy="491.4" r="2.3"/><circle cx="783.4" cy="522.0" r="2.3"/><circle cx="769.5" cy="516.0" r="2.3"/><circle cx="510.9" cy="468.5" r="2.3"/><circle cx="639.5" cy="491.4" r="2.3"/><circle cx="536.3" cy="501.3" r="2.3"/><circle cx="609.2" cy="508.6" r="2.3"/><circle cx="502.3" cy="476.1" r="2.3"/><circle cx="424.2" cy="542.1" r="2.3"/><circle cx="808.0" cy="453.6" r="2.3"/><circle cx="733.8" cy="522.3" r="2.3"/><circle cx="604.7" cy="528.4" r="2.3"/><circle cx="598.6" cy="521.4" r="2.3"/><circle cx="604.3" cy="494.5" r="2.3"/><circle cx="748.7" cy="534.1" r="2.3"/><circle cx="683.7" cy="528.9" r="2.3"/><circle cx="734.4" cy="464.2" r="2.3"/><circle cx="395.0" cy="543.9" r="2.3"/><circle cx="651.2" cy="523.5" r="2.3"/><circle cx="764.9" cy="496.1" r="2.3"/><circle cx="715.5" cy="472.0" r="2.3"/><circle cx="701.8" cy="527.2" r="2.3"/><circle cx="727.4" cy="521.2" r="2.3"/><circle cx="663.7" cy="503.6" r="2.3"/><circle cx="395.0" cy="518.6" r="2.3"/><circle cx="670.0" cy="512.6" r="2.3"/><circle cx="522.8" cy="486.0" r="2.3"/><circle cx="684.2" cy="536.1" r="2.3"/><circle cx="782.4" cy="492.5" r="2.3"/><circle cx="804.7" cy="466.3" r="2.3"/><circle cx="612.8" cy="527.4" r="2.3"/><circle cx="618.5" cy="497.9" r="2.3"/><circle cx="471.9" cy="499.5" r="2.3"/><circle cx="415.5" cy="537.3" r="2.3"/><circle cx="798.7" cy="474.3" r="2.3"/><circle cx="487.6" cy="452.3" r="2.3"/><circle cx="573.8" cy="502.1" r="2.3"/><circle cx="664.5" cy="485.0" r="2.3"/><circle cx="621.0" cy="495.1" r="2.3"/><circle cx="719.0" cy="498.5" r="2.3"/><circle cx="503.8" cy="470.2" r="2.3"/><circle cx="719.4" cy="492.0" r="2.3"/><circle cx="573.6" cy="517.7" r="2.3"/><circle cx="772.4" cy="465.6" r="2.3"/><circle cx="687.8" cy="504.7" r="2.3"/><circle cx="634.9" cy="522.9" r="2.3"/><circle cx="682.1" cy="523.0" r="2.3"/><circle cx="441.1" cy="515.1" r="2.3"/><circle cx="416.8" cy="521.7" r="2.3"/><circle cx="800.8" cy="486.9" r="2.3"/><circle cx="437.3" cy="547.7" r="2.3"/><circle cx="606.8" cy="526.4" r="2.3"/><circle cx="497.2" cy="477.5" r="2.3"/><circle cx="544.5" cy="480.9" r="2.3"/><circle cx="657.0" cy="529.7" r="2.3"/><circle cx="583.4" cy="504.2" r="2.3"/><circle cx="548.9" cy="529.9" r="2.3"/><circle cx="560.0" cy="488.3" r="2.3"/><circle cx="700.7" cy="514.6" r="2.3"/><circle cx="574.7" cy="510.8" r="2.3"/><circle cx="620.1" cy="522.1" r="2.3"/><circle cx="392.3" cy="517.1" r="2.3"/><circle cx="652.5" cy="543.4" r="2.3"/><circle cx="411.1" cy="555.7" r="2.3"/><circle cx="555.6" cy="503.9" r="2.3"/><circle cx="710.5" cy="512.5" r="2.3"/><circle cx="629.7" cy="477.5" r="2.3"/><circle cx="725.4" cy="522.5" r="2.3"/><circle cx="504.7" cy="477.9" r="2.3"/><circle cx="457.8" cy="535.2" r="2.3"/><circle cx="511.1" cy="465.1" r="2.3"/><circle cx="649.1" cy="543.6" r="2.3"/><circle cx="633.3" cy="528.7" r="2.3"/><circle cx="417.8" cy="543.5" r="2.3"/><circle cx="746.2" cy="474.5" r="2.3"/><circle cx="619.3" cy="519.0" r="2.3"/><circle cx="449.8" cy="556.8" r="2.3"/><circle cx="493.9" cy="464.3" r="2.3"/><circle cx="731.2" cy="488.5" r="2.3"/><circle cx="688.2" cy="539.0" r="2.3"/><circle cx="477.1" cy="491.7" r="2.3"/><circle cx="768.0" cy="469.2" r="2.3"/><circle cx="577.7" cy="505.3" r="2.3"/><circle cx="815.3" cy="489.9" r="2.3"/><circle cx="533.8" cy="496.6" r="2.3"/><circle cx="784.1" cy="470.5" r="2.3"/><circle cx="693.0" cy="539.4" r="2.3"/><circle cx="483.8" cy="500.2" r="2.3"/><circle cx="621.9" cy="487.6" r="2.3"/><circle cx="646.6" cy="491.0" r="2.3"/><circle cx="461.9" cy="529.9" r="2.3"/><circle cx="525.6" cy="483.9" r="2.3"/><circle cx="540.2" cy="477.8" r="2.3"/><circle cx="498.8" cy="482.6" r="2.3"/><circle cx="502.1" cy="475.7" r="2.3"/><circle cx="608.1" cy="532.2" r="2.3"/><circle cx="656.5" cy="513.4" r="2.3"/><circle cx="565.1" cy="496.2" r="2.3"/><circle cx="615.6" cy="529.8" r="2.3"/><circle cx="482.7" cy="472.0" r="2.3"/><circle cx="732.2" cy="467.5" r="2.3"/><circle cx="763.7" cy="496.0" r="2.3"/><circle cx="709.6" cy="503.0" r="2.3"/><circle cx="768.9" cy="521.6" r="2.3"/><circle cx="417.4" cy="533.2" r="2.3"/><circle cx="609.5" cy="511.2" r="2.3"/><circle cx="816.8" cy="428.9" r="2.3"/><circle cx="449.6" cy="514.4" r="2.3"/><circle cx="630.2" cy="527.9" r="2.3"/><circle cx="643.1" cy="513.0" r="2.3"/><circle cx="777.6" cy="477.5" r="2.3"/><circle cx="622.0" cy="518.4" r="2.3"/><circle cx="392.8" cy="515.5" r="2.3"/><circle cx="628.6" cy="499.9" r="2.3"/><circle cx="740.1" cy="454.0" r="2.3"/><circle cx="446.3" cy="518.0" r="2.3"/><circle cx="591.5" cy="494.8" r="2.3"/><circle cx="746.0" cy="492.5" r="2.3"/><circle cx="792.8" cy="472.1" r="2.3"/><circle cx="744.1" cy="462.6" r="2.3"/><circle cx="600.9" cy="497.0" r="2.3"/><circle cx="785.0" cy="458.5" r="2.3"/><circle cx="488.4" cy="499.2" r="2.3"/><circle cx="812.2" cy="474.0" r="2.3"/><circle cx="697.8" cy="504.8" r="2.3"/><circle cx="552.5" cy="473.9" r="2.3"/><circle cx="813.5" cy="458.6" r="2.3"/><circle cx="643.3" cy="515.1" r="2.3"/><circle cx="602.9" cy="495.4" r="2.3"/><circle cx="399.6" cy="548.6" r="2.3"/><circle cx="655.2" cy="526.9" r="2.3"/><circle cx="449.4" cy="511.4" r="2.3"/><circle cx="767.3" cy="450.5" r="2.3"/><circle cx="754.0" cy="425.9" r="2.3"/><circle cx="434.1" cy="522.0" r="2.3"/><circle cx="472.4" cy="492.0" r="2.3"/><circle cx="618.5" cy="514.3" r="2.3"/><circle cx="606.5" cy="486.5" r="2.3"/><circle cx="653.2" cy="484.4" r="2.3"/><circle cx="772.0" cy="484.7" r="2.3"/><circle cx="794.8" cy="494.8" r="2.3"/><circle cx="547.2" cy="462.3" r="2.3"/><circle cx="386.0" cy="478.0" r="2.3"/><circle cx="404.0" cy="569.0" r="2.3"/><circle cx="493.0" cy="584.0" r="2.3"/><circle cx="525.0" cy="572.0" r="2.3"/><circle cx="535.0" cy="482.0" r="2.3"/><circle cx="506.0" cy="425.0" r="2.3"/><circle cx="610.0" cy="520.0" r="2.3"/><circle cx="529.0" cy="593.5" r="2.3"/><circle cx="792.0" cy="533.0" r="2.3"/><circle cx="811.6" cy="541.7" r="2.3"/></g>
<path d="M737.0 608.6V632.7M738.1 610.6V636.7M739.3 610.5V637.1M740.4 609.1V635.7M741.6 613.7V651.7M742.7 611.4V665.3M743.9 605.8V633.7M745.0 612.5V636.7M746.2 615.0V636.3M747.3 607.9V642.7M748.5 605.2V655.4M749.6 604.2V636.8M750.8 597.5V667.2M751.9 610.8V646.2M753.1 609.6V651.9M754.2 604.2V644.0M755.4 603.5V645.5M756.5 601.4V641.2M757.7 600.2V641.6M758.8 607.0V642.5M760.0 603.6V646.5M761.1 606.8V637.6M762.3 606.0V642.0M763.4 600.3V643.4M764.6 600.8V643.4M765.7 605.3V636.0M766.9 599.8V669.8M768.0 600.9V633.5M769.2 601.3V638.5M770.3 599.6V648.9M771.5 607.7V639.5M772.6 599.2V643.0M773.8 598.9V637.6M774.9 602.2V634.9M776.1 598.9V637.9M777.2 597.7V631.5M778.4 595.3V635.2M779.5 596.9V632.0M780.7 596.8V633.4M781.8 598.0V631.2M783.0 607.8V631.2M784.1 602.0V632.0M785.3 606.8V633.5M786.4 611.5V637.4M787.6 611.9V636.6M788.7 606.5V644.5M789.9 604.2V642.2M791.0 608.8V652.4M792.2 610.0V649.6M793.3 613.1V647.5M794.5 610.6V648.2M795.6 605.9V644.2M796.8 611.0V646.1M797.9 618.0V643.7M799.1 619.2V660.8M800.2 625.1V643.6M801.4 625.7V664.9M802.5 617.2V651.7M803.7 617.4V655.3M804.8 617.2V648.8M806.0 616.3V646.2M807.1 618.7V647.8M808.3 622.4V657.1M809.4 620.1V654.9M810.6 625.9V652.5M811.7 626.8V661.0M812.9 629.7V661.1M814.0 633.2V664.2M815.2 632.6V664.1M816.3 631.8V664.1M817.5 628.5V665.0M818.6 634.4V681.2M819.8 634.5V660.9M820.9 639.3V663.3M822.1 632.7V665.2M823.2 637.4V662.6M824.4 639.5V666.1M825.5 636.8V674.2M826.7 632.3V666.8M827.8 635.6V669.2M829.0 642.9V688.1M830.1 642.0V661.9M831.3 638.1V672.2M832.4 636.6V665.6M833.6 636.5V672.2M834.7 642.7V674.6M835.9 644.1V673.9M837.0 640.5V683.6M838.2 647.3V672.9M839.3 647.3V676.8M840.5 643.8V678.3M841.6 643.7V675.2M842.8 647.5V689.4M843.9 652.7V678.3M845.1 646.9V677.4M846.2 650.5V709.2M847.4 654.5V681.1M848.5 650.6V681.0M849.7 651.0V682.2M850.8 655.4V681.3M852.0 655.8V680.0M853.1 652.4V683.5M854.3 654.1V686.2M855.4 656.5V681.1M856.6 654.5V683.5M857.7 659.2V684.6M858.9 655.7V684.7M860.0 654.5V680.1M861.2 657.5V679.9M862.3 655.8V680.1M863.5 659.2V685.0M864.6 656.5V685.0M865.8 657.0V684.8M866.9 660.3V686.9M868.1 665.1V684.9M869.2 658.5V687.9M870.4 657.6V686.5M871.5 658.6V711.0M872.7 662.1V689.8M873.8 660.1V689.7M875.0 659.5V690.6M876.1 661.5V689.9M877.3 661.9V690.9M878.4 664.1V687.3M879.6 664.7V687.3M880.7 667.4V684.3M881.9 670.1V692.9M883.0 671.1V686.9M884.2 665.7V695.7M885.3 664.7V693.0M886.5 666.0V697.5M887.6 669.4V691.6M888.8 671.9V691.0M889.9 672.1V687.3M891.1 669.1V686.8M892.2 667.4V692.4M893.4 667.8V694.6M894.5 667.3V699.1M895.7 671.8V693.4M896.8 670.3V701.5M898.0 672.6V695.3M899.1 673.8V694.4M900.3 669.9V694.7M901.4 670.5V694.2M902.6 671.5V689.9M903.7 671.6V720.6M904.9 673.1V689.8M906.0 671.4V694.2M907.2 674.2V695.4M908.3 678.1V692.2M909.5 674.6V695.4M910.6 671.7V706.4M911.8 671.7V693.3M912.9 675.5V692.9M914.1 672.5V693.6M915.2 673.4V698.1M916.4 674.4V693.5M917.5 677.4V690.8M918.7 676.9V690.6M919.8 678.0V692.9M921.0 675.0V695.0M922.1 677.4V696.1M923.3 678.9V697.3M924.4 681.7V694.0M925.6 681.5V698.9M926.7 677.9V691.2M927.9 676.3V701.3M929.0 679.9V694.1M930.2 680.8V694.5M931.3 682.9V696.4M932.5 681.9V699.8M933.6 679.4V696.7M934.8 682.3V694.9M935.9 681.6V692.8M937.1 682.0V692.4M938.2 682.0V694.5M939.4 682.3V693.4M940.5 681.4V692.5M941.7 683.3V693.4M942.8 683.1V692.4M944.0 680.1V697.0M945.1 678.9V694.3M946.3 681.1V693.7M947.4 681.4V692.7M948.6 679.4V694.6M949.7 681.1V696.9M950.9 679.9V697.5M952.0 681.0V696.5M953.2 678.5V694.5M954.3 677.8V695.1M955.5 680.2V695.6M956.6 679.5V693.0M957.8 674.4V690.6M958.9 673.2V693.0M960.1 672.3V688.3M961.2 674.8V692.9M962.4 667.2V689.9M963.5 667.0V691.4M964.7 672.4V691.7M965.8 667.9V687.2M967.0 665.1V690.4M968.1 666.5V686.8M969.3 663.9V692.9M970.4 667.8V689.1M971.6 672.2V687.4M972.7 671.8V689.9M973.9 665.5V690.7M975.0 664.0V690.7M976.2 662.4V690.4M977.3 662.2V693.0M978.5 664.1V693.1M979.6 668.8V698.8M980.8 669.2V692.2M981.9 666.7V686.6M983.1 662.5V686.4M984.2 663.2V686.9M985.4 664.3V689.6M986.5 656.0V688.9M987.7 662.2V688.4M988.8 660.6V692.7M990.0 657.8V689.2M991.1 660.3V689.1M992.3 663.2V682.8M993.4 653.4V686.9M994.6 651.9V684.3M995.7 651.3V686.4M996.9 650.6V686.8M998.0 647.8V689.3M999.2 645.4V683.6M1000.3 650.4V682.3M1001.5 644.7V686.2M1002.6 650.8V688.9M1003.8 648.0V716.4M1004.9 651.9V689.8M1006.1 651.5V686.8M1007.2 654.2V708.6M1008.4 642.8V688.8M1009.5 647.2V692.2M1010.7 641.3V687.1M1011.8 639.1V683.8M1013.0 641.4V697.0M1014.1 640.5V695.4M1015.3 642.2V691.9M1016.4 640.4V692.0M1017.6 644.0V690.6M1018.7 645.8V681.8M1019.9 644.9V681.9M1021.0 641.2V692.3M1022.2 641.3V690.3M1023.3 640.4V686.8M1024.5 634.8V683.4M1025.6 644.3V686.4M1026.8 644.5V694.2M1027.9 644.6V693.0M1029.1 654.0V684.6M1030.2 638.0V691.2M1031.4 643.5V697.6M1032.5 653.5V722.3M1033.7 651.3V699.2M1034.8 648.9V698.8M1036.0 648.1V699.2M1037.1 647.4V694.7M1038.3 653.9V694.6M1039.4 651.3V694.5M1040.6 651.0V696.8M1041.7 650.6V691.4M1042.9 647.5V689.5M894.0 681.3V776.0M963.0 650.0V741.0M740.0 600.0V582.0M745.0 600.0V585.0M752.0 600.0V580.0" stroke="#00B0F0" stroke-width="2.1" fill="none"/>
<path d="M645.4 695.9V701.4M646.5 692.3V700.9M647.7 690.3V700.0M648.8 689.7V701.0M650.0 686.2V700.7M651.1 686.4V699.5M652.3 682.3V697.7M653.4 680.4V700.2M654.6 682.8V706.1M655.7 684.4V695.1M656.9 681.1V693.7M658.0 680.1V696.6M659.2 681.0V703.5M660.3 675.3V696.2M661.5 674.6V695.7M662.6 677.5V692.8M663.8 671.6V693.2M664.9 674.7V692.2M666.1 677.1V688.7M667.2 674.5V687.1M668.4 673.6V687.3M669.5 675.2V690.1M670.7 672.7V697.4M671.8 672.4V690.7M673.0 673.0V687.8M674.1 673.7V691.3M675.3 675.9V689.4M676.4 677.8V689.4M677.6 673.3V689.2M678.7 669.5V691.2M679.9 670.1V691.8M681.0 671.7V690.1M682.2 668.0V689.1M683.3 663.9V694.0M684.5 662.5V699.2M685.6 655.9V686.8M686.8 657.7V707.4M687.9 658.4V681.6M689.1 656.4V682.9M690.2 661.8V681.0M691.4 656.7V687.7M692.5 659.2V681.2M693.7 650.8V680.2M694.8 650.6V681.2M696.0 652.6V685.8M704.0 643.8V659.1M705.1 644.9V671.5M706.3 643.7V663.8M707.4 638.6V672.7M708.6 636.2V670.1M709.7 633.4V672.9M710.9 632.1V675.7M712.0 632.3V672.0M713.2 628.3V675.7M714.3 638.6V674.8M715.5 637.3V670.1M716.6 642.5V678.3M717.8 630.1V682.0M718.9 629.4V683.0M720.1 639.2V682.9M721.2 632.6V680.8M722.4 629.5V679.0M723.5 625.7V670.3M724.7 629.4V672.7M725.8 623.4V669.2M727.0 619.9V674.4M728.1 625.2V669.0M729.3 625.0V685.5M730.4 615.4V704.2M731.6 613.7V675.1M732.7 608.9V695.0M733.9 609.1V713.1M735.0 615.5V685.0M736.2 614.0V695.7M737.3 616.7V686.4M738.5 627.6V714.8M739.6 636.3V691.2M740.8 627.7V683.7M741.9 636.8V676.2M743.1 618.9V691.9M744.2 614.3V695.8M745.4 616.9V683.0M746.5 611.5V687.5M747.7 611.1V670.5M748.8 609.1V675.0M750.0 609.5V662.9M751.1 600.3V697.7M752.3 599.2V700.0M753.4 598.4V657.6M754.6 600.4V670.2M755.7 599.8V672.7M756.9 607.5V691.2M758.0 614.5V664.9M759.2 603.4V654.6M760.3 602.7V650.7M761.5 603.0V651.4M762.6 602.1V651.1M763.8 602.6V654.4M764.9 602.7V659.2M766.1 605.8V669.3M767.2 612.0V669.5M768.4 618.6V655.7M769.5 610.5V659.6M770.7 618.3V662.7M771.8 605.4V658.0M773.0 601.2V652.1M774.1 600.0V672.3M775.3 598.6V670.8M776.4 607.5V670.6M777.6 598.4V659.8M778.7 595.9V650.7M779.9 598.7V660.6M781.0 597.9V659.5M782.2 596.8V658.3M783.3 603.7V652.9M784.5 617.1V663.6M785.6 620.6V663.1M786.8 610.2V661.0M787.9 610.9V683.0M789.1 606.9V677.9M790.2 609.2V667.3M791.4 617.1V670.3M792.5 626.0V673.2M793.7 629.7V673.8M794.8 629.9V694.1M796.0 616.6V667.4M797.1 612.7V673.6M798.3 614.6V670.2M799.4 616.7V670.7M800.6 614.1V672.9M801.7 613.8V671.5M802.9 617.9V697.6M804.0 617.7V668.3M805.2 621.3V660.1M806.3 618.2V656.4M807.5 626.1V667.0M808.6 629.5V673.1M809.8 626.3V682.7M810.9 631.0V675.9M812.1 630.8V671.7M813.2 637.9V675.2M814.4 642.0V682.3M815.5 643.6V688.1M816.7 642.1V684.5M817.8 648.2V683.0M819.0 642.7V679.7M820.1 645.3V714.1M821.3 632.8V680.9M822.4 642.6V683.8M823.6 640.4V677.6M824.7 649.8V684.0M825.9 644.8V681.5M827.0 640.9V679.3M828.2 640.0V678.0M829.3 645.6V710.7M830.5 642.3V691.7M831.6 642.9V697.0M832.8 644.8V684.6M833.9 651.6V694.6M835.1 649.3V693.7M836.2 648.5V695.5M837.4 653.4V693.0M838.5 660.3V687.9M839.7 660.7V695.3M840.8 655.7V704.1M842.0 654.1V695.4M843.1 654.7V691.8M844.3 656.3V725.6M845.4 660.2V693.6M846.6 656.3V698.1M847.7 656.3V698.5M848.9 662.2V699.5M850.0 659.7V698.8M851.2 660.3V706.5M852.3 664.0V693.5M853.5 670.1V696.8M854.6 663.8V695.6M855.8 663.7V688.9M856.9 666.1V700.7M858.1 668.0V692.3M859.2 665.4V695.5M860.4 664.8V698.3M861.5 664.7V699.0M862.7 666.8V697.1M863.8 666.9V695.0M865.0 669.1V697.4M866.1 674.3V697.0M867.3 672.0V697.5M868.4 668.1V699.1M869.6 666.9V695.8M870.7 674.6V720.2M871.9 675.0V695.3M873.0 670.4V698.8M874.2 676.2V703.4M875.3 671.8V694.5M876.5 670.3V692.5M877.6 670.0V696.3M878.8 671.9V698.7M879.9 672.2V693.7M881.1 672.9V694.0M882.2 672.5V694.7M883.4 672.7V695.6M884.5 676.7V715.3M885.7 673.7V696.0M886.8 678.7V697.6M888.0 675.8V707.2M889.1 675.7V696.4M890.3 677.6V693.7M891.4 679.0V694.4M892.6 682.2V693.3M893.7 682.3V692.1M894.9 682.5V716.1M896.0 677.3V695.2M897.2 677.4V697.6M898.3 677.4V697.1M899.5 677.0V694.5M900.6 677.4V692.2M901.8 677.5V703.8M902.9 677.0V696.2M904.1 680.1V696.8M905.2 678.9V717.8M906.4 678.6V697.5M907.5 681.9V707.9M908.7 679.8V696.8M909.8 679.8V695.3M911.0 682.0V695.8M912.1 679.9V714.6M913.3 681.3V696.8M914.4 682.2V701.3M915.6 684.5V696.0M916.7 676.4V705.1M917.9 683.8V696.4M919.0 681.3V695.8M920.2 681.0V692.9M921.3 683.1V693.0M922.5 681.5V691.7M923.6 683.2V692.1M924.8 683.9V691.3M925.9 685.3V691.3M927.1 685.4V691.5M928.2 682.3V693.1M929.4 683.1V694.7M930.5 682.9V693.2M931.7 684.9V694.5M932.8 684.2V693.6M934.0 685.7V694.2M935.1 683.8V693.6M936.3 685.5V694.1M937.4 685.1V692.2M938.6 685.6V695.3M939.7 682.6V692.1M940.9 683.3V693.8M942.0 684.6V693.8M943.2 682.9V704.1M944.3 683.5V692.3M945.5 683.1V690.9M946.6 685.2V698.8M947.8 682.1V692.2M948.9 681.6V691.2M950.1 682.2V691.7M951.2 682.7V690.8M952.4 682.6V693.7M953.5 682.2V693.6M954.7 681.4V696.1M955.8 680.6V693.1M957.0 681.2V692.8M958.1 677.5V692.2M959.3 677.1V696.5M960.4 674.1V689.6M961.6 675.9V686.7M962.7 676.0V690.7M963.9 676.1V690.8M965.0 671.0V694.7M966.2 672.4V687.5M967.3 669.6V688.2M968.5 670.1V688.6M969.6 665.8V690.3M970.8 670.4V690.8M971.9 670.5V691.3M973.1 667.1V689.3M974.2 668.3V688.7M975.4 668.9V698.8M976.5 669.9V688.0M977.7 668.0V689.8M978.8 667.4V688.7M980.0 669.3V685.5M981.1 672.2V684.4M982.3 668.5V684.3M983.4 667.9V684.5M984.6 662.3V688.8M985.7 667.8V691.2M986.9 666.3V689.0M988.0 666.4V690.6M989.2 665.0V689.6M990.3 667.0V685.5M991.5 668.8V688.6M992.6 661.7V683.0M993.8 660.8V682.1M994.9 654.1V704.1M996.1 650.1V687.6M997.2 652.0V689.0M998.4 647.8V681.5M999.5 644.7V675.6M1000.7 641.3V675.5M1001.8 643.0V685.2M1003.0 638.4V682.1M1004.1 635.6V684.8M1005.3 638.0V675.2M1006.4 640.1V680.7M1007.6 642.9V685.2M1008.7 648.2V678.5M1009.9 642.6V685.4M1011.0 639.9V678.1M1012.2 641.7V682.8M1013.3 639.0V682.7M1014.5 637.1V675.9M1015.6 642.4V678.5M1016.8 645.5V682.0M1017.9 640.3V679.6M1019.1 641.7V683.2M1020.2 643.5V684.7M1021.4 643.3V678.3M1022.5 638.1V682.9M1023.7 635.2V683.4M1024.8 634.2V682.1M1026.0 640.2V682.1M1027.1 630.5V682.2M1028.3 636.1V691.2M1029.4 642.5V676.7M1030.6 636.2V672.7M1031.7 640.4V679.0M1032.9 638.7V681.8M1034.0 637.9V673.9M1035.2 639.5V710.2M1036.3 641.4V677.0M1037.5 642.1V677.7M1038.6 638.7V680.5M1039.8 642.1V684.1M1040.9 649.0V679.2M1042.1 644.8V685.4M1043.2 648.2V690.0M1044.4 644.9V689.2M1045.5 647.1V712.1M1046.7 645.0V685.7M1047.8 643.0V682.7M1049.0 643.7V682.7M1050.1 649.0V682.6M1051.3 655.3V721.9M1052.4 652.0V725.2M1053.6 655.1V687.5M1054.7 652.1V690.5M1055.9 654.7V691.8M1057.0 654.3V682.4M1058.2 653.6V689.8M1059.3 642.0V689.7M1060.5 640.5V691.1M1061.6 639.5V685.0M1062.8 635.4V686.9M1063.9 637.3V690.3M1065.1 646.4V687.1M1066.2 641.2V692.9M1067.4 632.8V696.6M1068.5 630.2V687.2M1069.7 637.1V692.2M1070.8 631.0V694.2M1072.0 635.7V682.9M1073.1 633.0V685.9M1074.3 628.1V690.9M1075.4 630.0V696.3M1076.6 638.0V684.2M1077.7 637.2V692.7M1078.9 640.0V686.9M1080.0 646.5V711.9M1081.2 649.9V698.0M1082.3 648.2V697.9M1083.5 638.8V692.5M1084.6 638.8V693.4M1085.8 637.8V698.8M1086.9 646.8V690.4M1088.1 643.3V696.3M1089.2 641.6V687.1M1090.4 641.1V689.5M1091.5 643.3V696.2M1092.7 645.1V693.5M1093.8 650.2V729.2M1095.0 644.5V718.2M1096.1 644.5V699.4M1097.3 656.8V694.5M1098.4 652.1V726.9M1099.6 662.8V704.6M1100.7 656.4V701.2M1101.9 658.1V704.4M1103.0 668.3V699.6M1104.2 674.3V701.0M1105.4 670.0V733.4M1106.5 667.3V698.0M1107.7 670.3V701.4M1108.8 673.3V707.1M1110.0 674.6V704.0M1111.1 669.8V704.5M1112.3 674.5V704.8M1113.4 675.6V702.7M1114.6 673.6V701.8M1115.7 674.7V700.6M1116.9 675.4V701.6M1118.0 674.8V699.7M1119.2 675.9V705.1M1120.3 679.5V705.8M1121.5 684.7V703.9M1122.6 684.5V706.2M1123.8 679.9V720.1M1124.9 685.8V702.4M1126.1 683.3V718.7M1127.2 685.1V698.9M1128.4 684.3V700.3M1129.5 688.6V710.4M1130.7 685.2V703.3M1131.8 685.5V703.5M1133.0 687.4V700.9M1134.1 687.7V702.8M1135.3 690.0V702.3M1136.4 688.4V702.5M1137.6 688.9V700.3M1138.7 689.7V698.9M1139.9 691.0V701.0M1141.0 691.9V699.3M1142.2 691.9V700.4M1143.3 693.6V699.4M1144.5 694.5V700.5M1145.6 694.4V699.7M1146.8 694.4V700.9M1147.9 694.2V700.0M1149.1 694.2V700.1M1150.2 694.3V700.4M1151.4 694.2V701.6M1152.5 694.4V700.2M1153.7 694.1V699.9M1154.8 694.3V700.5M1156.0 695.3V699.6M1157.1 694.5V699.8M1158.3 695.5V699.6M1159.4 695.0V699.9M1160.6 695.1V699.0M1161.7 694.7V699.9M1162.9 694.6V699.1M1164.0 695.7V699.4M1165.2 696.0V701.8M1166.3 695.4V699.3M1167.5 694.4V699.4M1168.6 694.2V698.7M1169.8 694.4V700.2M1170.9 695.0V699.9M1172.1 694.6V701.7M1173.2 695.2V699.6M1174.4 695.6V698.7M1175.5 694.5V699.5M1176.7 694.4V700.3M1177.8 695.4V699.5M1179.0 695.6V699.8M1180.1 696.0V700.5M1181.3 695.9V700.6M1182.4 694.8V700.0M1183.6 694.5V700.4M1184.7 695.3V699.6M1185.9 694.6V698.5M1187.0 695.2V698.6M1188.2 694.9V699.3M1189.3 694.6V699.9M1190.5 694.5V699.7M1191.6 692.9V699.1M1192.8 693.6V700.2M1193.9 692.9V700.0M1195.1 693.0V699.2M1196.2 692.0V699.7M1197.4 691.3V700.7M1198.5 690.1V703.9M1199.7 690.8V699.7M1200.8 690.3V697.9M1202.0 689.8V696.3M1203.1 689.0V698.7M1204.3 685.9V699.1M1205.4 684.2V696.1M1206.6 685.0V693.8M1207.7 681.9V697.3M1208.9 682.9V697.8M1210.0 680.4V695.7M1211.2 677.8V695.4M1212.3 678.3V697.0M1213.5 676.8V702.8M1214.6 677.8V694.0M1215.8 676.4V691.5M1216.9 674.7V696.2M1218.1 671.5V697.7M1219.2 678.6V693.8M1220.4 677.6V708.9M1221.5 676.2V693.7M1222.7 674.1V699.7M1223.8 674.7V697.8M1225.0 672.9V696.1M1226.1 673.5V695.3M1227.3 672.3V696.5M1228.4 671.6V697.9M1229.6 668.5V695.8M1230.7 672.4V695.3M1231.9 672.7V696.8M1233.0 667.9V693.5M1234.2 670.9V716.0M1235.3 662.6V699.3M1236.5 666.1V686.4M1237.6 660.8V693.2M1238.8 663.8V693.3M1239.9 661.6V692.7M1241.1 661.5V690.8M1242.2 660.5V692.0M1243.4 662.7V689.0M1244.5 661.6V682.9M1245.7 660.4V687.8M1246.8 656.1V682.8M1248.0 652.7V684.5M1249.1 646.0V699.1M1250.3 653.5V682.6M1251.4 652.9V679.4M1252.6 651.8V687.4M1253.7 655.5V692.5M1254.9 659.1V695.3M1256.0 659.4V696.3M1257.2 646.4V692.5M1258.3 647.5V693.6M1259.5 653.7V698.8M1260.6 645.5V691.1M1261.8 648.9V688.1M1262.9 645.6V682.0M1264.1 650.7V685.8M1265.2 646.1V723.8M1266.4 653.7V695.8M1267.5 647.0V693.5M1268.7 644.1V686.0M1269.8 646.0V707.5M1271.0 635.0V676.9M1272.1 635.7V684.4M1273.3 631.7V685.5M1274.4 633.1V684.4M1275.6 638.4V679.2M1276.7 641.9V673.5M1277.9 640.4V670.2M1279.0 632.0V661.9M1280.2 636.7V656.7M1281.3 634.8V661.8M1282.5 636.6V671.4M658.4 687.1V864.0M664.0 681.8V716.0M685.5 674.0V712.7M713.3 653.0V703.5M731.9 652.0V716.0M750.4 639.5V734.0M759.6 635.8V737.4M793.6 642.9V731.0M1053.0 668.8V734.8M1137.0 695.5V745.0M831.0 640.0V535.5M894.6 672.0V567.0" stroke="#92D050" stroke-width="2.1" fill="none"/>
<path d="M805.6 663.0V704.9M806.8 659.8V715.4M807.9 658.8V707.2M809.0 657.0V707.6M810.2 648.5V706.9M811.3 656.4V714.9M812.5 654.1V706.1M813.6 655.5V713.9M814.8 654.5V709.7M815.9 652.6V704.1M817.1 654.6V704.9M818.2 651.9V708.2M819.4 649.4V725.0M820.5 652.0V698.8M821.7 653.8V702.5M822.8 661.3V705.9M824.0 660.7V704.6M825.1 648.7V708.2M826.3 650.9V741.8M827.4 651.2V711.6M828.6 653.6V709.3M829.7 661.3V711.4M830.9 666.7V706.8M832.0 658.2V706.6M833.2 654.6V708.9M834.3 663.5V706.2M835.5 665.1V712.8M836.6 669.9V707.2M837.8 660.6V707.8M838.9 659.3V710.1M840.1 659.0V741.1M841.2 659.5V712.4M842.4 659.9V706.3M843.5 662.3V718.8M844.7 668.2V742.9M845.8 663.7V722.2M847.0 669.8V706.9M848.1 665.1V704.1M849.3 665.2V709.3M850.4 671.0V704.9M851.6 666.9V706.2M852.7 666.6V709.2M853.9 667.9V703.2M855.0 668.2V708.3M856.2 667.6V706.3M857.3 669.6V705.0M858.5 672.7V701.2M859.6 672.8V707.5M860.8 676.6V702.0M861.9 680.3V703.8M863.1 680.8V722.0M864.2 680.2V705.5M865.4 674.2V701.1M866.5 679.6V704.5M867.7 676.5V706.9M868.8 678.3V707.6M870.0 682.6V707.2M871.1 684.5V706.6M872.3 682.5V711.1M873.4 678.7V709.1M874.6 680.4V705.4M875.7 683.1V707.2M876.9 681.2V704.5M878.0 683.7V701.7M879.2 683.3V703.5M880.3 683.6V704.4M881.5 686.4V701.6M882.6 687.9V702.1M883.8 683.6V713.3M884.9 686.9V706.3M886.1 684.2V703.4M887.2 687.8V704.6M888.4 689.2V706.0M889.5 686.6V706.1M890.7 683.8V704.8M891.8 686.3V725.6M893.0 685.4V705.0M894.1 686.8V705.0M895.3 688.6V719.5M896.4 688.9V711.2M897.6 686.5V701.7M898.7 686.1V710.9M899.9 686.6V700.7M901.0 686.5V700.9M902.2 686.7V702.2M903.3 687.1V700.5M904.5 684.7V702.2M905.6 688.1V701.2M906.8 687.8V699.6M907.9 689.6V700.1M909.1 691.4V700.3M910.2 691.0V700.1M911.4 689.6V700.5M912.5 689.5V700.4M913.7 690.6V700.1M914.8 690.8V700.0M916.0 692.3V698.4M917.1 692.3V698.9M918.3 692.3V698.6M919.4 691.5V700.0M920.6 691.9V698.8M921.7 692.7V698.1M922.9 692.6V698.2M924.0 692.9V701.3M925.2 693.0V697.4M926.3 692.8V697.5M927.5 693.2V697.3M928.6 693.2V697.9M929.8 692.3V697.0M930.9 691.5V696.8M932.1 692.9V696.9M933.2 692.2V696.5M934.4 692.2V696.3M935.5 692.9V696.5M936.7 692.9V696.2M937.8 692.2V696.7M939.0 692.1V696.6M940.1 692.3V696.2M941.3 692.2V696.4M942.4 692.6V696.7M943.6 691.6V696.6M944.7 691.6V696.7M945.9 691.3V697.8M947.0 691.0V695.9M948.2 691.4V696.5M949.3 690.8V696.9M950.5 690.7V696.9M951.6 691.3V697.0M952.8 690.5V696.2M953.9 690.4V696.4M955.1 690.4V696.5M956.2 687.9V697.3M957.4 687.4V697.8M958.5 684.2V698.0M959.7 683.9V697.4M960.8 682.7V703.6M962.0 677.3V695.5M963.1 680.4V695.8M964.3 681.3V693.2M965.4 679.8V693.9M966.6 678.6V695.3M967.7 678.0V692.8M968.9 677.4V696.7M970.0 677.0V694.4M971.2 678.1V693.7M972.3 677.2V695.2M973.5 675.9V692.4M974.6 675.0V692.5M975.8 673.9V689.4M976.9 671.4V691.8M978.1 670.4V693.7M979.2 671.2V687.6M980.4 667.1V690.0M981.5 669.0V687.7M982.7 665.9V700.4M983.8 667.4V686.2M985.0 661.8V685.4M986.1 658.1V685.7M987.3 656.3V688.5M988.4 659.4V683.8M989.6 654.9V687.5M990.7 653.1V691.2M991.9 652.4V692.5M993.0 650.1V695.0M994.2 652.2V696.3M995.3 651.2V697.7M996.5 654.6V699.0M997.6 648.2V692.7M998.8 644.6V696.8M999.9 643.0V696.0M1001.1 642.5V705.3M1002.2 648.6V689.6M1003.4 645.6V690.2M1004.5 642.7V684.5M1005.7 643.2V689.4M1006.8 649.4V686.4M1008.0 646.2V682.9M1009.1 643.0V685.0M1010.3 639.6V687.7M1011.4 647.7V685.7M1012.6 653.4V690.5M1013.7 647.6V693.1M1014.9 644.9V690.4M1016.0 642.5V688.7M1017.2 649.9V697.6M1018.3 655.7V688.5M1019.5 648.9V688.1M1020.6 651.2V683.1M1021.8 648.9V684.2M1022.9 649.9V703.2M1024.1 642.6V682.1M1025.2 648.0V675.6M1026.4 642.1V679.2M1027.5 642.4V679.8M1028.7 644.5V676.4M1029.8 640.9V673.3M1031.0 641.1V676.6M1032.1 639.8V671.3M1033.3 640.4V671.4M1034.4 644.4V672.3M1035.6 643.0V671.7M1036.7 639.1V680.7M1037.9 641.1V673.2M1039.0 641.0V678.9M1040.2 639.2V677.7M1041.3 640.5V681.1M1042.5 641.1V678.4M1052.0 666.3V674.5M1056.5 643.3V683.4M1057.7 642.0V685.5M1058.8 640.0V688.7M1060.0 638.6V689.9M1061.1 646.1V684.7M1062.3 648.6V726.9M1063.4 652.5V700.7M1064.6 642.5V708.2M1065.7 650.1V707.2M1066.9 644.7V702.1M1068.0 649.2V697.3M1069.2 648.1V721.9M1070.3 641.6V687.4M1071.5 643.7V679.2M1072.6 641.7V676.8M1073.8 641.2V676.8M1074.9 636.2V679.4M1076.1 639.1V676.2M1077.2 629.0V683.9M1078.4 630.6V671.9M1079.5 628.8V668.6M1080.7 627.4V671.6M1081.8 634.0V672.6M1083.0 635.5V693.5M1084.1 636.9V704.3M1085.3 642.8V685.6M1086.4 643.2V693.1M1087.6 649.2V685.1M1088.7 641.2V683.2M1089.9 648.6V691.4M1091.0 640.3V692.0M1092.2 647.3V692.3M1093.3 645.3V684.3M1094.5 644.6V691.0M1095.6 651.0V684.4M1096.8 653.3V688.7M1097.9 649.7V682.9M1099.1 655.8V687.3M1100.2 653.9V683.1M1101.4 656.3V684.7M1102.5 655.9V699.2M1103.7 659.9V679.2M1104.8 660.0V686.3M1106.0 661.1V684.7M1107.1 661.2V684.0M1108.3 661.4V685.7M1109.4 663.7V687.3M1110.6 663.6V684.5M1111.7 664.1V685.1M1112.9 665.6V695.6M1114.0 666.6V687.2M1115.2 667.1V689.2M1116.3 667.1V701.0M1117.5 673.1V697.7M1118.6 673.4V691.8M1119.8 671.6V687.8M1120.9 672.2V687.7M1122.1 675.2V690.3M1123.2 675.7V692.9M1124.4 677.9V691.3M1125.5 678.2V692.0M1126.7 677.4V691.5M1127.8 679.5V693.4M1129.0 680.1V691.1M1130.1 681.3V692.4M1131.3 680.5V691.6M1132.4 679.6V690.5M1133.6 679.3V690.6M1134.7 678.7V702.7M1135.9 678.7V693.2M1137.0 679.3V699.4M1138.2 681.1V697.0M1139.3 683.0V692.2M1140.5 684.5V691.5M1141.6 683.1V701.5M1142.8 684.2V693.2M1143.9 683.8V694.9M1145.1 684.5V696.0M1146.2 686.0V695.2M1147.4 685.1V694.0M1148.5 685.2V693.3M1149.7 684.9V694.5M1150.8 685.4V695.6M1152.0 685.9V694.9M1153.1 685.5V694.7M1154.3 685.0V694.4M1155.4 682.6V693.1M1156.6 682.6V693.8M1157.7 683.0V692.8M1158.9 681.7V700.2M1160.0 681.9V690.8M1161.2 683.7V692.7M1162.3 684.5V692.0M1163.5 683.7V693.3M1164.6 684.8V693.6M1165.8 685.1V693.8M1166.9 684.7V693.8M1168.1 686.1V694.7M1169.2 686.1V693.9M1170.4 687.0V702.2M1171.5 685.7V691.9M1172.7 685.2V693.1M1173.8 684.4V694.8M1175.0 684.9V693.0M1176.1 683.9V692.7M1177.3 685.0V692.9M1178.4 684.2V693.4M1179.6 684.7V692.6M1180.7 684.5V692.8M1181.9 683.3V692.8M1183.0 684.1V693.0M1184.2 684.5V692.8M1185.3 683.9V692.1M1186.5 684.3V693.0M1187.6 685.2V690.6M1188.8 685.2V691.0M1189.9 685.4V690.6M1191.1 686.3V691.6M1192.2 686.3V691.9M1193.4 684.7V691.7M1194.5 685.4V691.0M821.4 680.6V834.6M826.0 681.6V745.0M838.0 686.2V745.0M849.0 688.1V765.0M860.0 690.0V720.0M870.0 692.3V718.0M890.0 695.4V717.5M983.0 676.5V703.0M998.9 672.8V728.0M1010.0 666.6V717.5M1017.6 671.3V715.0M1065.0 674.2V712.0M1072.0 655.3V773.7M1105.0 672.6V708.0M1137.0 686.8V743.7" stroke="#C00000" stroke-width="2.1" fill="none"/>
<path d="M1144.3 649.4V663.3M1145.5 649.0V661.9M1146.6 649.1V665.9M1147.8 648.6V660.7M1148.9 650.4V661.6M1150.1 648.3V659.4M1151.2 648.2V658.5M1152.4 649.9V658.7M1153.5 649.1V659.6M1154.7 649.6V657.7M1155.8 650.6V659.3M1157.0 650.0V658.1M1158.1 648.7V662.1M1159.3 647.1V657.2M1160.4 647.1V660.4M1161.6 647.5V658.9M1162.7 647.3V663.2M1163.9 645.0V657.7M1165.0 647.6V659.1M1166.2 648.0V658.9M1167.3 647.9V660.0M1168.5 648.1V658.1M1169.6 650.3V660.0M1170.8 649.9V658.2M1171.9 643.3V664.7M1173.1 649.6V656.4M1174.2 651.4V661.0M1175.4 650.2V662.2M1176.5 648.9V658.9M1177.7 649.3V659.0M1178.8 648.9V663.4M1180.0 649.7V659.7M1181.1 648.9V657.8M1182.3 649.8V658.9M1183.4 650.6V661.3M1184.6 650.9V656.6M1185.7 649.4V657.3M1186.9 651.0V656.4M1188.0 651.4V656.2M1189.2 649.3V657.5M1190.3 648.7V658.1M1191.5 649.4V656.4M1192.6 649.5V657.4M1193.8 649.3V656.2M1194.9 649.8V657.5M1196.1 650.4V657.8M1197.2 649.4V657.9M1198.4 648.5V656.0M1199.5 647.9V655.4M1200.7 647.8V655.1M1201.8 648.5V655.0M1203.0 649.3V657.0M1204.1 647.1V657.0M1205.3 648.4V658.0M1206.4 647.9V668.4M1207.6 647.4V658.1M1208.7 647.3V657.4M1209.9 645.2V658.1M1211.0 645.7V660.0M1212.2 644.2V658.1M1213.3 642.7V656.0M1214.5 644.1V654.6M1215.6 645.8V654.5M1216.8 646.4V653.6M1217.9 643.5V663.1M1219.1 645.2V655.4M1220.2 645.8V655.2M1221.4 645.0V652.7M1222.5 644.7V654.2M1223.7 640.7V657.0M1224.8 641.8V656.2M1226.0 635.1V655.9M1227.1 632.8V658.2M1228.3 636.8V658.1M1229.4 628.7V657.3M1230.6 625.1V650.0M1231.7 625.4V656.7M1232.9 628.2V650.0M1234.0 626.7V656.2M1235.2 621.3V655.0M1236.3 621.5V675.3M1237.5 616.9V659.5M1238.6 614.7V656.3M1239.8 618.2V650.7M1240.9 612.1V646.1M1242.1 611.0V647.2M1243.2 608.4V648.2M1244.4 609.6V650.2M1245.5 608.8V649.5M1246.7 602.1V643.2M1247.8 604.6V650.5M1249.0 599.1V654.8M1250.1 598.1V644.2M1251.3 600.2V673.7M1252.4 596.3V647.2M1253.6 595.4V646.8M1254.7 599.7V636.9M1255.9 592.6V648.3M1257.0 596.5V648.9M1258.2 591.6V643.9M1259.3 592.3V640.0M1260.5 595.8V646.1M1261.6 591.8V648.5M1262.8 587.4V640.4M1263.9 594.6V641.8M1265.1 596.3V648.2M1266.2 602.7V642.3M1267.4 604.5V640.1M1268.5 593.0V635.3M1269.7 588.9V643.8M1270.8 587.3V639.3M1272.0 588.6V636.0M1273.1 596.2V630.8M1274.3 587.0V639.1M1275.4 587.7V639.5M1276.6 596.5V661.0M1277.7 594.7V638.5M1278.9 594.3V669.3M1280.0 594.5V646.9M1281.2 591.7V646.9M1282.3 589.7V645.3M1283.5 601.8V636.1M1284.6 605.2V633.2M1285.8 605.9V639.2M1286.9 602.4V642.2M1158.0 653.2V669.0M1212.0 651.0V671.0" stroke="#7030A0" stroke-width="2.1" fill="none"/>
<path d="M164.25 121.4V914.1M154.2 914.10H1304.6M164.2 121.40H1304.6M1304.60 121.4V924.1M153.8 914.45H172.2M153.8 835.09H172.2M153.8 755.73H172.2M153.8 676.37H172.2M153.8 597.01H172.2M153.8 517.65H172.2M153.8 438.29H172.2M153.8 358.93H172.2M153.8 279.57H172.2M153.8 200.21H172.2M153.8 120.85H172.2M164.2 874.77H172.2M164.2 795.41H172.2M164.2 716.05H172.2M164.2 636.69H172.2M164.2 557.33H172.2M164.2 477.97H172.2M164.2 398.61H172.2M164.2 319.25H172.2M164.2 239.89H172.2M164.2 160.53H172.2M164.25 905.6V924.1M278.28 905.6V924.1M392.32 905.6V924.1M506.35 905.6V924.1M620.39 905.6V924.1M734.42 905.6V924.1M848.46 905.6V924.1M962.50 905.6V924.1M1076.53 905.6V924.1M1190.56 905.6V924.1M1304.60 905.6V924.1M187.06 905.6V914.1M209.86 905.6V914.1M232.67 905.6V914.1M255.48 905.6V914.1M301.09 905.6V914.1M323.90 905.6V914.1M346.71 905.6V914.1M369.51 905.6V914.1M415.13 905.6V914.1M437.93 905.6V914.1M460.74 905.6V914.1M483.55 905.6V914.1M529.16 905.6V914.1M551.97 905.6V914.1M574.78 905.6V914.1M597.58 905.6V914.1M643.20 905.6V914.1M666.00 905.6V914.1M688.81 905.6V914.1M711.62 905.6V914.1M757.23 905.6V914.1M780.04 905.6V914.1M802.85 905.6V914.1M825.65 905.6V914.1M871.27 905.6V914.1M894.07 905.6V914.1M916.88 905.6V914.1M939.69 905.6V914.1M985.30 905.6V914.1M1008.11 905.6V914.1M1030.92 905.6V914.1M1053.72 905.6V914.1M1099.34 905.6V914.1M1122.14 905.6V914.1M1144.95 905.6V914.1M1167.76 905.6V914.1M1213.37 905.6V914.1M1236.18 905.6V914.1M1258.99 905.6V914.1M1281.79 905.6V914.1" stroke="#8E8E8E" stroke-width="1.5" fill="none"/>
<g font-family='"Liberation Sans", Arial, sans-serif' font-size="36.8" text-anchor="end" fill="#000"><text x="132.6" y="927.1">1355</text><text x="132.6" y="847.7">1357</text><text x="132.6" y="768.3">1359</text><text x="132.6" y="689.0">1361</text><text x="132.6" y="609.6">1363</text><text x="132.6" y="530.2">1365</text><text x="132.6" y="450.9">1367</text><text x="132.6" y="371.5">1369</text><text x="132.6" y="292.2">1371</text><text x="132.6" y="212.8">1373</text><text x="132.6" y="133.4">1375</text></g>
<g font-family='"Liberation Sans", Arial, sans-serif' font-size="36.8" text-anchor="middle" fill="#000"><text x="164.6" y="969">1975</text><text x="278.6" y="969">1980</text><text x="392.6" y="969">1985</text><text x="506.7" y="969">1990</text><text x="620.7" y="969">1995</text><text x="734.7" y="969">2000</text><text x="848.8" y="969">2005</text><text x="962.8" y="969">2010</text><text x="1076.8" y="969">2015</text><text x="1190.9" y="969">2020</text><text x="1304.9" y="969">2025</text></g>
<g font-family='"Liberation Sans", Arial, sans-serif' font-size="36.8" font-weight="bold" fill="#000"><text x="253.2" y="888.6">SC21</text><text x="484.2" y="888.6">SC22</text><text x="734.7" y="888.6">SC23</text><text x="1026.3" y="888.6">SC24</text><text x="1208.3" y="888.6">SC25</text></g>
<g font-family='"Liberation Sans", Arial, sans-serif' font-size="36.8"><text x="612.3" y="226.4" fill="#4EA72E">NIMBUS7/ERB</text><text x="507.5" y="397.2" fill="#156082">SMM/ACRIM1</text><text x="826.5" y="406.0" fill="#A02B93">SOHO/DIARAD</text><text x="169.9" y="561.0" fill="#E97132">ERBS/ERBE</text><text x="495.5" y="633.1" fill="#0F9ED5">UARS/</text><text x="483.4" y="675.0" fill="#0F9ED5">ACRIM2</text><text x="853.3" y="589.8" fill="#00B0F0">ACRIMSat/</text><text x="875.6" y="631.5" fill="#00B0F0">ACRIM3</text><text x="1116.3" y="580.3" fill="#7030A0">TSIS-1/</text><text x="1147.7" y="622.0" fill="#7030A0">TIM</text><text x="350.4" y="740.4" fill="#92D050">SOHO/PMO6-VA</text><text x="901.8" y="769.2" fill="#C00000">SORCE/</text><text x="941.1" y="810.9" fill="#C00000">TIM</text></g>
<text x="217.2" y="30.8" font-family='"Liberation Sans", Arial, sans-serif' font-size="40.8" font-weight="bold">Daily total solar irradiance satellite readings at 1 au</text>
<text x="323.8" y="78.3" font-family='"Liberation Sans", Arial, sans-serif' font-size="40.8">(as provided by the satellite mission teams)</text>
<text transform="translate(29.8,857) rotate(-90)" font-family='"Liberation Sans", Arial, sans-serif' font-size="36.8">Total solar irradiance (TSI) at 1 au (W m<tspan font-size="23" dy="-12">-2</tspan><tspan dy="12">)</tspan></text>
</svg>
</body></html>
